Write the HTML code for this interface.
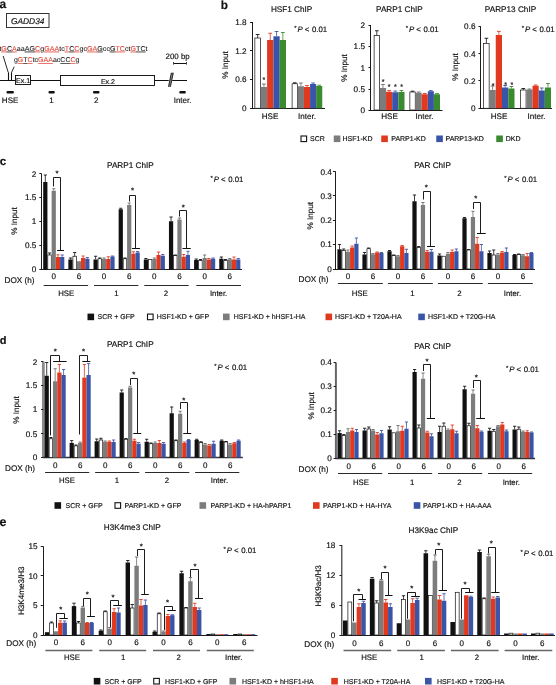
<!DOCTYPE html>
<html><head><meta charset="utf-8"><title>GADD34 ChIP figure</title>
<style>
html,body{margin:0;padding:0;background:#fff;}
body{width:556px;height:685px;overflow:hidden;}
svg{display:block;font-family:'Liberation Sans', Arial, Helvetica, sans-serif;}
text{stroke:#111;stroke-width:0.16px;text-rendering:geometricPrecision;}
</style></head>
<body>
<svg width="556" height="685" viewBox="0 0 556 685">
<rect width="556" height="685" fill="#fff"/>
<text x="-0.40" y="7.70" font-size="12.0" font-weight="bold" fill="#111">a</text>
<rect x="6.50" y="13.50" width="42.50" height="14.00" fill="white" stroke="#333" stroke-width="1.0"/>
<text x="27.70" y="23.82" font-size="8.4" text-anchor="middle" font-style="italic" fill="#111">GADD34</text>
<text x="-0.6" y="50.6" font-size="7" textLength="148.2" lengthAdjust="spacingAndGlyphs"><tspan fill="#222" stroke="#222" stroke-width="0.08">t</tspan><tspan fill="#e04535" stroke="#e04535" stroke-width="0.08" text-decoration="underline" style="text-decoration-thickness:0.45px;text-underline-offset:0.6px">G</tspan><tspan fill="#222" stroke="#222" stroke-width="0.08" text-decoration="underline" style="text-decoration-thickness:0.45px;text-underline-offset:0.6px">C</tspan><tspan fill="#e04535" stroke="#e04535" stroke-width="0.08" text-decoration="underline" style="text-decoration-thickness:0.45px;text-underline-offset:0.6px">A</tspan><tspan fill="#222" stroke="#222" stroke-width="0.08">aa</tspan><tspan fill="#222" stroke="#222" stroke-width="0.08" text-decoration="underline" style="text-decoration-thickness:0.45px;text-underline-offset:0.6px">A</tspan><tspan fill="#222" stroke="#222" stroke-width="0.08" text-decoration="underline" style="text-decoration-thickness:0.45px;text-underline-offset:0.6px">G</tspan><tspan fill="#e04535" stroke="#e04535" stroke-width="0.08" text-decoration="underline" style="text-decoration-thickness:0.45px;text-underline-offset:0.6px">C</tspan><tspan fill="#222" stroke="#222" stroke-width="0.08">g</tspan><tspan fill="#e04535" stroke="#e04535" stroke-width="0.08" text-decoration="underline" style="text-decoration-thickness:0.45px;text-underline-offset:0.6px">GAA</tspan><tspan fill="#222" stroke="#222" stroke-width="0.08">tc</tspan><tspan fill="#e04535" stroke="#e04535" stroke-width="0.08" text-decoration="underline" style="text-decoration-thickness:0.45px;text-underline-offset:0.6px">T</tspan><tspan fill="#222" stroke="#222" stroke-width="0.08" text-decoration="underline" style="text-decoration-thickness:0.45px;text-underline-offset:0.6px">C</tspan><tspan fill="#e04535" stroke="#e04535" stroke-width="0.08" text-decoration="underline" style="text-decoration-thickness:0.45px;text-underline-offset:0.6px">C</tspan><tspan fill="#222" stroke="#222" stroke-width="0.08">gc</tspan><tspan fill="#e04535" stroke="#e04535" stroke-width="0.08" text-decoration="underline" style="text-decoration-thickness:0.45px;text-underline-offset:0.6px">GA</tspan><tspan fill="#222" stroke="#222" stroke-width="0.08" text-decoration="underline" style="text-decoration-thickness:0.45px;text-underline-offset:0.6px">G</tspan><tspan fill="#222" stroke="#222" stroke-width="0.08">cc</tspan><tspan fill="#222" stroke="#222" stroke-width="0.08" text-decoration="underline" style="text-decoration-thickness:0.45px;text-underline-offset:0.6px">G</tspan><tspan fill="#e04535" stroke="#e04535" stroke-width="0.08" text-decoration="underline" style="text-decoration-thickness:0.45px;text-underline-offset:0.6px">TC</tspan><tspan fill="#222" stroke="#222" stroke-width="0.08">ct</tspan><tspan fill="#e04535" stroke="#e04535" stroke-width="0.08" text-decoration="underline" style="text-decoration-thickness:0.45px;text-underline-offset:0.6px">G</tspan><tspan fill="#222" stroke="#222" stroke-width="0.08" text-decoration="underline" style="text-decoration-thickness:0.45px;text-underline-offset:0.6px">TC</tspan><tspan fill="#222" stroke="#222" stroke-width="0.08">t</tspan></text>
<text x="13.9" y="62.2" font-size="7" textLength="65.6" lengthAdjust="spacingAndGlyphs"><tspan fill="#222" stroke="#222" stroke-width="0.08">g</tspan><tspan fill="#e04535" stroke="#e04535" stroke-width="0.08" text-decoration="underline" style="text-decoration-thickness:0.45px;text-underline-offset:0.6px">G</tspan><tspan fill="#222" stroke="#222" stroke-width="0.08" text-decoration="underline" style="text-decoration-thickness:0.45px;text-underline-offset:0.6px">T</tspan><tspan fill="#e04535" stroke="#e04535" stroke-width="0.08" text-decoration="underline" style="text-decoration-thickness:0.45px;text-underline-offset:0.6px">C</tspan><tspan fill="#222" stroke="#222" stroke-width="0.08">tc</tspan><tspan fill="#e04535" stroke="#e04535" stroke-width="0.08" text-decoration="underline" style="text-decoration-thickness:0.45px;text-underline-offset:0.6px">GAA</tspan><tspan fill="#222" stroke="#222" stroke-width="0.08">ac</tspan><tspan fill="#222" stroke="#222" stroke-width="0.08" text-decoration="underline" style="text-decoration-thickness:0.45px;text-underline-offset:0.6px">CC</tspan><tspan fill="#e04535" stroke="#e04535" stroke-width="0.08" text-decoration="underline" style="text-decoration-thickness:0.45px;text-underline-offset:0.6px">C</tspan><tspan fill="#222" stroke="#222" stroke-width="0.08">g</tspan></text>
<text x="165.60" y="58.50" font-size="7.9" fill="#111">200 bp</text>
<line x1="173.90" y1="63.50" x2="186.10" y2="63.50" stroke="#111" stroke-width="1.0"/>
<line x1="173.50" y1="62.00" x2="173.50" y2="64.60" stroke="#111" stroke-width="0.8"/>
<line x1="186.50" y1="62.00" x2="186.50" y2="64.60" stroke="#111" stroke-width="0.8"/>
<line x1="0.00" y1="80.50" x2="168.80" y2="80.50" stroke="#111" stroke-width="1.0"/>
<line x1="172.20" y1="80.50" x2="187.00" y2="80.50" stroke="#111" stroke-width="1.0"/>
<line x1="3.20" y1="56.00" x2="8.20" y2="72.30" stroke="#111" stroke-width="0.9"/>
<line x1="14.20" y1="66.70" x2="11.60" y2="72.30" stroke="#111" stroke-width="0.9"/>
<line x1="8.50" y1="72.30" x2="8.50" y2="80.50" stroke="#111" stroke-width="1.1"/>
<line x1="11.50" y1="72.30" x2="11.50" y2="80.50" stroke="#111" stroke-width="1.1"/>
<rect x="15.50" y="75.50" width="15.00" height="9.00" fill="white" stroke="#111" stroke-width="0.95"/>
<text x="23.10" y="83.12" font-size="7.0" text-anchor="middle" fill="#111">Ex.1</text>
<rect x="60.50" y="75.50" width="94.00" height="10.00" fill="white" stroke="#111" stroke-width="0.95"/>
<text x="107.90" y="83.52" font-size="7.0" text-anchor="middle" fill="#111">Ex.2</text>
<polygon points="168.0,86.8 170.9,86.8 173.8,72.8 170.9,72.8" fill="#222"/>
<line x1="169.60" y1="86.20" x2="172.20" y2="73.40" stroke="#ddd" stroke-width="0.5"/>
<rect x="6.5" y="90.9" width="7.35" height="2.6" rx="1" fill="#111"/>
<rect x="48.5" y="90.9" width="6.25" height="2.6" rx="1" fill="#111"/>
<rect x="93.0" y="90.9" width="6.50" height="2.6" rx="1" fill="#111"/>
<rect x="179.3" y="90.9" width="6.50" height="2.6" rx="1" fill="#111"/>
<text x="10.10" y="102.68" font-size="8.0" text-anchor="middle" fill="#111">HSE</text>
<text x="51.60" y="102.68" font-size="8.0" text-anchor="middle" fill="#111">1</text>
<text x="96.20" y="102.68" font-size="8.0" text-anchor="middle" fill="#111">2</text>
<text x="182.60" y="102.68" font-size="8.0" text-anchor="middle" fill="#111">Inter.</text>
<text x="220.80" y="8.70" font-size="11.8" font-weight="bold" fill="#111">b</text>
<line x1="252.50" y1="22.00" x2="252.50" y2="108.65" stroke="#111" stroke-width="0.95"/>
<line x1="251.85" y1="108.50" x2="325.00" y2="108.50" stroke="#111" stroke-width="0.95"/>
<line x1="250.00" y1="22.50" x2="252.30" y2="22.50" stroke="#111" stroke-width="0.95"/>
<text x="246.60" y="24.95" font-size="8.2" text-anchor="end" fill="#111">1.8</text>
<line x1="250.00" y1="50.50" x2="252.30" y2="50.50" stroke="#111" stroke-width="0.95"/>
<text x="246.60" y="53.70" font-size="8.2" text-anchor="end" fill="#111">1.2</text>
<line x1="250.00" y1="79.50" x2="252.30" y2="79.50" stroke="#111" stroke-width="0.95"/>
<text x="246.60" y="82.45" font-size="8.2" text-anchor="end" fill="#111">0.6</text>
<line x1="250.00" y1="108.50" x2="252.30" y2="108.50" stroke="#111" stroke-width="0.95"/>
<text x="246.60" y="111.20" font-size="8.2" text-anchor="end" fill="#111">0</text>
<text x="291.60" y="11.85" font-size="8.2" text-anchor="middle" fill="#111">HSF1 ChIP</text>
<text transform="translate(227.60,65.00) rotate(-90)" font-size="8.1" text-anchor="middle" fill="#111">% Input</text>
<rect x="254.85" y="38.00" width="5.60" height="70.25" fill="white" stroke="#111" stroke-width="0.7"/>
<line x1="257.65" y1="38.00" x2="257.65" y2="34.50" stroke="#111" stroke-width="0.8"/>
<line x1="255.76" y1="34.50" x2="259.54" y2="34.50" stroke="#111" stroke-width="0.9"/>
<rect x="260.80" y="87.00" width="6.30" height="21.25" fill="#7c7c7c"/>
<line x1="263.95" y1="87.00" x2="263.95" y2="84.00" stroke="#6a6a6a" stroke-width="0.8"/>
<line x1="262.06" y1="84.00" x2="265.84" y2="84.00" stroke="#6a6a6a" stroke-width="0.9"/>
<rect x="267.10" y="40.00" width="6.30" height="68.25" fill="#e0391f"/>
<line x1="270.25" y1="40.00" x2="270.25" y2="33.30" stroke="#e0391f" stroke-width="0.8"/>
<line x1="268.36" y1="33.30" x2="272.14" y2="33.30" stroke="#e0391f" stroke-width="0.9"/>
<rect x="273.40" y="36.30" width="6.30" height="71.95" fill="#3a55a8"/>
<line x1="276.55" y1="36.30" x2="276.55" y2="31.50" stroke="#3a55a8" stroke-width="0.8"/>
<line x1="274.66" y1="31.50" x2="278.44" y2="31.50" stroke="#3a55a8" stroke-width="0.9"/>
<rect x="279.70" y="40.00" width="6.30" height="68.25" fill="#3a8a30"/>
<line x1="282.85" y1="40.00" x2="282.85" y2="32.50" stroke="#3a8a30" stroke-width="0.8"/>
<line x1="280.96" y1="32.50" x2="284.74" y2="32.50" stroke="#3a8a30" stroke-width="0.9"/>
<rect x="292.10" y="83.75" width="5.40" height="24.50" fill="white" stroke="#111" stroke-width="0.7"/>
<line x1="294.80" y1="83.75" x2="294.80" y2="82.80" stroke="#111" stroke-width="0.8"/>
<line x1="292.97" y1="82.80" x2="296.63" y2="82.80" stroke="#111" stroke-width="0.9"/>
<rect x="297.85" y="86.25" width="6.10" height="22.00" fill="#7c7c7c"/>
<line x1="300.90" y1="86.25" x2="300.90" y2="83.00" stroke="#6a6a6a" stroke-width="0.8"/>
<line x1="299.07" y1="83.00" x2="302.73" y2="83.00" stroke="#6a6a6a" stroke-width="0.9"/>
<rect x="303.95" y="87.00" width="6.10" height="21.25" fill="#e0391f"/>
<line x1="307.00" y1="87.00" x2="307.00" y2="85.50" stroke="#e0391f" stroke-width="0.8"/>
<line x1="305.17" y1="85.50" x2="308.83" y2="85.50" stroke="#e0391f" stroke-width="0.9"/>
<rect x="310.05" y="84.00" width="6.10" height="24.25" fill="#3a55a8"/>
<line x1="313.10" y1="84.00" x2="313.10" y2="83.00" stroke="#3a55a8" stroke-width="0.8"/>
<line x1="311.27" y1="83.00" x2="314.93" y2="83.00" stroke="#3a55a8" stroke-width="0.9"/>
<rect x="316.15" y="86.00" width="6.10" height="22.25" fill="#3a8a30"/>
<line x1="319.20" y1="86.00" x2="319.20" y2="85.20" stroke="#3a8a30" stroke-width="0.8"/>
<line x1="317.37" y1="85.20" x2="321.03" y2="85.20" stroke="#3a8a30" stroke-width="0.9"/>
<text x="263.90" y="82.06" font-size="7.0" text-anchor="middle" fill="#111">*</text>
<text x="295.50" y="30.40" font-size="6.0" text-anchor="middle" fill="#111">*</text>
<text x="297.50" y="32.31" font-size="7.8" font-style="italic" fill="#111">P</text>
<text x="304.80" y="32.31" font-size="7.8" fill="#111">&lt;</text>
<text x="312.00" y="32.31" font-size="7.8" fill="#111">0.01</text>
<text x="270.00" y="119.02" font-size="8.1" text-anchor="middle" fill="#111">HSE</text>
<text x="307.00" y="119.02" font-size="8.1" text-anchor="middle" fill="#111">Inter.</text>
<line x1="370.50" y1="25.00" x2="370.50" y2="110.40" stroke="#111" stroke-width="0.95"/>
<line x1="370.30" y1="110.50" x2="442.50" y2="110.50" stroke="#111" stroke-width="0.95"/>
<line x1="368.45" y1="25.50" x2="370.75" y2="25.50" stroke="#111" stroke-width="0.95"/>
<text x="365.00" y="27.95" font-size="8.2" text-anchor="end" fill="#111">2</text>
<line x1="368.45" y1="46.50" x2="370.75" y2="46.50" stroke="#111" stroke-width="0.95"/>
<text x="365.00" y="49.45" font-size="8.2" text-anchor="end" fill="#111">1.5</text>
<line x1="368.45" y1="67.50" x2="370.75" y2="67.50" stroke="#111" stroke-width="0.95"/>
<text x="365.00" y="70.70" font-size="8.2" text-anchor="end" fill="#111">1</text>
<line x1="368.45" y1="89.50" x2="370.75" y2="89.50" stroke="#111" stroke-width="0.95"/>
<text x="365.00" y="91.95" font-size="8.2" text-anchor="end" fill="#111">0.5</text>
<line x1="368.45" y1="110.50" x2="370.75" y2="110.50" stroke="#111" stroke-width="0.95"/>
<text x="365.00" y="112.95" font-size="8.2" text-anchor="end" fill="#111">0</text>
<text x="399.40" y="11.85" font-size="8.2" text-anchor="middle" fill="#111">PARP1 ChIP</text>
<text transform="translate(346.90,68.00) rotate(-90)" font-size="8.1" text-anchor="middle" fill="#111">% Input</text>
<rect x="374.10" y="35.50" width="5.45" height="74.50" fill="white" stroke="#111" stroke-width="0.7"/>
<line x1="376.82" y1="35.50" x2="376.82" y2="30.75" stroke="#111" stroke-width="0.8"/>
<line x1="374.98" y1="30.75" x2="378.67" y2="30.75" stroke="#111" stroke-width="0.9"/>
<rect x="379.90" y="88.00" width="6.15" height="22.00" fill="#7c7c7c"/>
<line x1="382.97" y1="88.00" x2="382.97" y2="84.50" stroke="#6a6a6a" stroke-width="0.8"/>
<line x1="381.13" y1="84.50" x2="384.82" y2="84.50" stroke="#6a6a6a" stroke-width="0.9"/>
<rect x="386.05" y="91.75" width="6.15" height="18.25" fill="#e0391f"/>
<line x1="389.12" y1="91.75" x2="389.12" y2="90.50" stroke="#e0391f" stroke-width="0.8"/>
<line x1="387.28" y1="90.50" x2="390.97" y2="90.50" stroke="#e0391f" stroke-width="0.9"/>
<rect x="392.20" y="92.25" width="6.15" height="17.75" fill="#3a55a8"/>
<line x1="395.27" y1="92.25" x2="395.27" y2="91.00" stroke="#3a55a8" stroke-width="0.8"/>
<line x1="393.43" y1="91.00" x2="397.12" y2="91.00" stroke="#3a55a8" stroke-width="0.9"/>
<rect x="398.35" y="92.00" width="6.15" height="18.00" fill="#3a8a30"/>
<line x1="401.43" y1="92.00" x2="401.43" y2="90.50" stroke="#3a8a30" stroke-width="0.8"/>
<line x1="399.58" y1="90.50" x2="403.27" y2="90.50" stroke="#3a8a30" stroke-width="0.9"/>
<rect x="409.85" y="92.00" width="5.40" height="18.00" fill="white" stroke="#111" stroke-width="0.7"/>
<line x1="412.55" y1="92.00" x2="412.55" y2="91.20" stroke="#111" stroke-width="0.8"/>
<line x1="410.72" y1="91.20" x2="414.38" y2="91.20" stroke="#111" stroke-width="0.9"/>
<rect x="415.60" y="92.75" width="6.10" height="17.25" fill="#7c7c7c"/>
<line x1="418.65" y1="92.75" x2="418.65" y2="92.00" stroke="#6a6a6a" stroke-width="0.8"/>
<line x1="416.82" y1="92.00" x2="420.48" y2="92.00" stroke="#6a6a6a" stroke-width="0.9"/>
<rect x="421.70" y="94.25" width="6.10" height="15.75" fill="#e0391f"/>
<line x1="424.75" y1="94.25" x2="424.75" y2="93.50" stroke="#e0391f" stroke-width="0.8"/>
<line x1="422.92" y1="93.50" x2="426.58" y2="93.50" stroke="#e0391f" stroke-width="0.9"/>
<rect x="427.80" y="91.25" width="6.10" height="18.75" fill="#3a55a8"/>
<line x1="430.85" y1="91.25" x2="430.85" y2="90.60" stroke="#3a55a8" stroke-width="0.8"/>
<line x1="429.02" y1="90.60" x2="432.68" y2="90.60" stroke="#3a55a8" stroke-width="0.9"/>
<rect x="433.90" y="94.25" width="6.10" height="15.75" fill="#3a8a30"/>
<line x1="436.95" y1="94.25" x2="436.95" y2="93.50" stroke="#3a8a30" stroke-width="0.8"/>
<line x1="435.12" y1="93.50" x2="438.78" y2="93.50" stroke="#3a8a30" stroke-width="0.9"/>
<text x="383.10" y="84.06" font-size="7.0" text-anchor="middle" fill="#111">*</text>
<text x="389.20" y="88.56" font-size="7.0" text-anchor="middle" fill="#111">*</text>
<text x="395.40" y="88.56" font-size="7.0" text-anchor="middle" fill="#111">*</text>
<text x="401.50" y="88.56" font-size="7.0" text-anchor="middle" fill="#111">*</text>
<text x="407.00" y="30.40" font-size="6.0" text-anchor="middle" fill="#111">*</text>
<text x="409.00" y="32.31" font-size="7.8" font-style="italic" fill="#111">P</text>
<text x="416.30" y="32.31" font-size="7.8" fill="#111">&lt;</text>
<text x="423.50" y="32.31" font-size="7.8" fill="#111">0.01</text>
<text x="389.50" y="119.02" font-size="8.1" text-anchor="middle" fill="#111">HSE</text>
<text x="424.50" y="119.02" font-size="8.1" text-anchor="middle" fill="#111">Inter.</text>
<line x1="480.50" y1="26.30" x2="480.50" y2="108.65" stroke="#111" stroke-width="0.95"/>
<line x1="480.30" y1="108.50" x2="552.00" y2="108.50" stroke="#111" stroke-width="0.95"/>
<line x1="478.45" y1="26.50" x2="480.75" y2="26.50" stroke="#111" stroke-width="0.95"/>
<text x="475.50" y="29.25" font-size="8.2" text-anchor="end" fill="#111">0.6</text>
<line x1="478.45" y1="53.50" x2="480.75" y2="53.50" stroke="#111" stroke-width="0.95"/>
<text x="475.50" y="56.55" font-size="8.2" text-anchor="end" fill="#111">0.4</text>
<line x1="478.45" y1="80.50" x2="480.75" y2="80.50" stroke="#111" stroke-width="0.95"/>
<text x="475.50" y="83.85" font-size="8.2" text-anchor="end" fill="#111">0.2</text>
<line x1="478.45" y1="108.50" x2="480.75" y2="108.50" stroke="#111" stroke-width="0.95"/>
<text x="475.50" y="111.20" font-size="8.2" text-anchor="end" fill="#111">0</text>
<text x="510.50" y="11.85" font-size="8.2" text-anchor="middle" fill="#111">PARP13 ChIP</text>
<text transform="translate(458.30,67.00) rotate(-90)" font-size="8.1" text-anchor="middle" fill="#111">% Input</text>
<rect x="483.60" y="43.40" width="5.55" height="64.85" fill="white" stroke="#111" stroke-width="0.7"/>
<line x1="486.38" y1="43.40" x2="486.38" y2="38.25" stroke="#111" stroke-width="0.8"/>
<line x1="484.50" y1="38.25" x2="488.25" y2="38.25" stroke="#111" stroke-width="0.9"/>
<rect x="489.50" y="90.00" width="6.25" height="18.25" fill="#7c7c7c"/>
<line x1="492.62" y1="90.00" x2="492.62" y2="86.00" stroke="#6a6a6a" stroke-width="0.8"/>
<line x1="490.75" y1="86.00" x2="494.50" y2="86.00" stroke="#6a6a6a" stroke-width="0.9"/>
<rect x="495.75" y="35.00" width="6.25" height="73.25" fill="#e0391f"/>
<line x1="498.88" y1="35.00" x2="498.88" y2="31.40" stroke="#e0391f" stroke-width="0.8"/>
<line x1="497.00" y1="31.40" x2="500.75" y2="31.40" stroke="#e0391f" stroke-width="0.9"/>
<rect x="502.00" y="87.50" width="6.25" height="20.75" fill="#3a55a8"/>
<line x1="505.12" y1="87.50" x2="505.12" y2="85.50" stroke="#3a55a8" stroke-width="0.8"/>
<line x1="503.25" y1="85.50" x2="507.00" y2="85.50" stroke="#3a55a8" stroke-width="0.9"/>
<rect x="508.25" y="88.50" width="6.25" height="19.75" fill="#3a8a30"/>
<line x1="511.38" y1="88.50" x2="511.38" y2="86.50" stroke="#3a8a30" stroke-width="0.8"/>
<line x1="509.50" y1="86.50" x2="513.25" y2="86.50" stroke="#3a8a30" stroke-width="0.9"/>
<rect x="520.60" y="90.00" width="5.45" height="18.25" fill="white" stroke="#111" stroke-width="0.7"/>
<line x1="523.33" y1="90.00" x2="523.33" y2="88.50" stroke="#111" stroke-width="0.8"/>
<line x1="521.48" y1="88.50" x2="525.17" y2="88.50" stroke="#111" stroke-width="0.9"/>
<rect x="526.40" y="89.50" width="6.15" height="18.75" fill="#7c7c7c"/>
<line x1="529.48" y1="89.50" x2="529.48" y2="89.00" stroke="#6a6a6a" stroke-width="0.8"/>
<line x1="527.63" y1="89.00" x2="531.32" y2="89.00" stroke="#6a6a6a" stroke-width="0.9"/>
<rect x="532.55" y="85.75" width="6.15" height="22.50" fill="#e0391f"/>
<line x1="535.62" y1="85.75" x2="535.62" y2="85.00" stroke="#e0391f" stroke-width="0.8"/>
<line x1="533.78" y1="85.00" x2="537.47" y2="85.00" stroke="#e0391f" stroke-width="0.9"/>
<rect x="538.70" y="90.50" width="6.15" height="17.75" fill="#3a55a8"/>
<line x1="541.78" y1="90.50" x2="541.78" y2="88.00" stroke="#3a55a8" stroke-width="0.8"/>
<line x1="539.93" y1="88.00" x2="543.62" y2="88.00" stroke="#3a55a8" stroke-width="0.9"/>
<rect x="544.85" y="87.50" width="6.15" height="20.75" fill="#3a8a30"/>
<line x1="547.93" y1="87.50" x2="547.93" y2="83.50" stroke="#3a8a30" stroke-width="0.8"/>
<line x1="546.08" y1="83.50" x2="549.77" y2="83.50" stroke="#3a8a30" stroke-width="0.9"/>
<text x="493.10" y="88.06" font-size="7.0" text-anchor="middle" fill="#111">*</text>
<text x="505.60" y="86.86" font-size="7.0" text-anchor="middle" fill="#111">*</text>
<text x="511.80" y="87.36" font-size="7.0" text-anchor="middle" fill="#111">*</text>
<text x="523.00" y="30.40" font-size="6.0" text-anchor="middle" fill="#111">*</text>
<text x="525.00" y="32.31" font-size="7.8" font-style="italic" fill="#111">P</text>
<text x="532.30" y="32.31" font-size="7.8" fill="#111">&lt;</text>
<text x="539.50" y="32.31" font-size="7.8" fill="#111">0.01</text>
<text x="499.00" y="119.02" font-size="8.1" text-anchor="middle" fill="#111">HSE</text>
<text x="536.50" y="119.02" font-size="8.1" text-anchor="middle" fill="#111">Inter.</text>
<rect x="301.00" y="136.00" width="5.60" height="5.60" fill="white" stroke="#111" stroke-width="1.1"/>
<text x="310.00" y="141.32" font-size="7.0" fill="#111" stroke-width="0.1">SCR</text>
<rect x="333.75" y="135.50" width="6.60" height="6.60" fill="#7c7c7c"/>
<text x="342.50" y="141.32" font-size="7.0" fill="#111" stroke-width="0.1">HSF1-KD</text>
<rect x="381.25" y="135.50" width="6.60" height="6.60" fill="#e0391f"/>
<text x="391.25" y="141.32" font-size="7.0" fill="#111" stroke-width="0.1">PARP1-KD</text>
<rect x="436.25" y="135.50" width="6.60" height="6.60" fill="#3a55a8"/>
<text x="445.50" y="141.32" font-size="7.0" fill="#111" stroke-width="0.1">PARP13-KD</text>
<rect x="496.25" y="135.50" width="6.60" height="6.60" fill="#3a8a30"/>
<text x="505.75" y="141.32" font-size="7.0" fill="#111" stroke-width="0.1">DKD</text>
<text x="-0.30" y="165.40" font-size="11.6" font-weight="bold" fill="#111">c</text>
<line x1="41.50" y1="173.75" x2="41.50" y2="269.70" stroke="#111" stroke-width="0.95"/>
<line x1="41.15" y1="269.50" x2="242.00" y2="269.50" stroke="#111" stroke-width="0.95"/>
<line x1="39.30" y1="173.50" x2="41.60" y2="173.50" stroke="#111" stroke-width="0.95"/>
<text x="36.30" y="176.70" font-size="8.2" text-anchor="end" fill="#111">2</text>
<line x1="39.30" y1="197.50" x2="41.60" y2="197.50" stroke="#111" stroke-width="0.95"/>
<text x="36.30" y="200.45" font-size="8.2" text-anchor="end" fill="#111">1.5</text>
<line x1="39.30" y1="221.50" x2="41.60" y2="221.50" stroke="#111" stroke-width="0.95"/>
<text x="36.30" y="224.45" font-size="8.2" text-anchor="end" fill="#111">1</text>
<line x1="39.30" y1="245.50" x2="41.60" y2="245.50" stroke="#111" stroke-width="0.95"/>
<text x="36.30" y="248.35" font-size="8.2" text-anchor="end" fill="#111">0.5</text>
<line x1="39.30" y1="269.50" x2="41.60" y2="269.50" stroke="#111" stroke-width="0.95"/>
<text x="36.30" y="272.25" font-size="8.2" text-anchor="end" fill="#111">0</text>
<rect x="43.20" y="182.00" width="4.22" height="87.30" fill="#111"/>
<line x1="45.31" y1="182.00" x2="45.31" y2="175.00" stroke="#111" stroke-width="0.8"/>
<line x1="43.73" y1="175.00" x2="46.89" y2="175.00" stroke="#111" stroke-width="0.9"/>
<rect x="47.77" y="255.00" width="3.52" height="14.30" fill="white" stroke="#111" stroke-width="0.7"/>
<line x1="49.53" y1="255.00" x2="49.53" y2="253.00" stroke="#111" stroke-width="0.8"/>
<line x1="47.95" y1="253.00" x2="51.11" y2="253.00" stroke="#111" stroke-width="0.9"/>
<rect x="51.64" y="190.75" width="4.22" height="78.55" fill="#7c7c7c"/>
<line x1="53.75" y1="190.75" x2="53.75" y2="188.75" stroke="#6a6a6a" stroke-width="0.8"/>
<line x1="52.17" y1="188.75" x2="55.33" y2="188.75" stroke="#6a6a6a" stroke-width="0.9"/>
<rect x="55.86" y="257.00" width="4.22" height="12.30" fill="#e0391f"/>
<line x1="57.97" y1="257.00" x2="57.97" y2="254.80" stroke="#e0391f" stroke-width="0.8"/>
<line x1="56.39" y1="254.80" x2="59.55" y2="254.80" stroke="#e0391f" stroke-width="0.9"/>
<rect x="60.08" y="257.00" width="4.22" height="12.30" fill="#3a55a8"/>
<line x1="62.19" y1="257.00" x2="62.19" y2="255.00" stroke="#3a55a8" stroke-width="0.8"/>
<line x1="60.61" y1="255.00" x2="63.77" y2="255.00" stroke="#3a55a8" stroke-width="0.9"/>
<rect x="68.35" y="259.50" width="4.22" height="9.80" fill="#111"/>
<line x1="70.46" y1="259.50" x2="70.46" y2="258.00" stroke="#111" stroke-width="0.8"/>
<line x1="68.88" y1="258.00" x2="72.04" y2="258.00" stroke="#111" stroke-width="0.9"/>
<rect x="72.92" y="256.25" width="3.52" height="13.05" fill="white" stroke="#111" stroke-width="0.7"/>
<line x1="74.68" y1="256.25" x2="74.68" y2="252.50" stroke="#111" stroke-width="0.8"/>
<line x1="73.10" y1="252.50" x2="76.26" y2="252.50" stroke="#111" stroke-width="0.9"/>
<rect x="76.79" y="261.25" width="4.22" height="8.05" fill="#7c7c7c"/>
<rect x="81.01" y="258.00" width="4.22" height="11.30" fill="#e0391f"/>
<line x1="83.12" y1="258.00" x2="83.12" y2="256.00" stroke="#e0391f" stroke-width="0.8"/>
<line x1="81.54" y1="256.00" x2="84.70" y2="256.00" stroke="#e0391f" stroke-width="0.9"/>
<rect x="85.23" y="258.75" width="4.22" height="10.55" fill="#3a55a8"/>
<line x1="87.34" y1="258.75" x2="87.34" y2="257.50" stroke="#3a55a8" stroke-width="0.8"/>
<line x1="85.76" y1="257.50" x2="88.92" y2="257.50" stroke="#3a55a8" stroke-width="0.9"/>
<rect x="93.50" y="259.50" width="4.22" height="9.80" fill="#111"/>
<line x1="95.61" y1="259.50" x2="95.61" y2="256.25" stroke="#111" stroke-width="0.8"/>
<line x1="94.03" y1="256.25" x2="97.19" y2="256.25" stroke="#111" stroke-width="0.9"/>
<rect x="98.07" y="258.75" width="3.52" height="10.55" fill="white" stroke="#111" stroke-width="0.7"/>
<line x1="99.83" y1="258.75" x2="99.83" y2="258.00" stroke="#111" stroke-width="0.8"/>
<line x1="98.25" y1="258.00" x2="101.41" y2="258.00" stroke="#111" stroke-width="0.9"/>
<rect x="101.94" y="259.00" width="4.22" height="10.30" fill="#7c7c7c"/>
<line x1="104.05" y1="259.00" x2="104.05" y2="258.00" stroke="#6a6a6a" stroke-width="0.8"/>
<line x1="102.47" y1="258.00" x2="105.63" y2="258.00" stroke="#6a6a6a" stroke-width="0.9"/>
<rect x="106.16" y="259.00" width="4.22" height="10.30" fill="#e0391f"/>
<line x1="108.27" y1="259.00" x2="108.27" y2="256.75" stroke="#e0391f" stroke-width="0.8"/>
<line x1="106.69" y1="256.75" x2="109.85" y2="256.75" stroke="#e0391f" stroke-width="0.9"/>
<rect x="110.38" y="256.50" width="4.22" height="12.80" fill="#3a55a8"/>
<line x1="112.49" y1="256.50" x2="112.49" y2="256.00" stroke="#3a55a8" stroke-width="0.8"/>
<line x1="110.91" y1="256.00" x2="114.07" y2="256.00" stroke="#3a55a8" stroke-width="0.9"/>
<rect x="118.65" y="209.25" width="4.22" height="60.05" fill="#111"/>
<line x1="120.76" y1="209.25" x2="120.76" y2="208.25" stroke="#111" stroke-width="0.8"/>
<line x1="119.18" y1="208.25" x2="122.34" y2="208.25" stroke="#111" stroke-width="0.9"/>
<rect x="123.22" y="258.75" width="3.52" height="10.55" fill="white" stroke="#111" stroke-width="0.7"/>
<line x1="124.98" y1="258.75" x2="124.98" y2="258.00" stroke="#111" stroke-width="0.8"/>
<line x1="123.40" y1="258.00" x2="126.56" y2="258.00" stroke="#111" stroke-width="0.9"/>
<rect x="127.09" y="205.00" width="4.22" height="64.30" fill="#7c7c7c"/>
<line x1="129.20" y1="205.00" x2="129.20" y2="203.00" stroke="#6a6a6a" stroke-width="0.8"/>
<line x1="127.62" y1="203.00" x2="130.78" y2="203.00" stroke="#6a6a6a" stroke-width="0.9"/>
<rect x="131.31" y="253.75" width="4.22" height="15.55" fill="#e0391f"/>
<line x1="133.42" y1="253.75" x2="133.42" y2="251.75" stroke="#e0391f" stroke-width="0.8"/>
<line x1="131.84" y1="251.75" x2="135.00" y2="251.75" stroke="#e0391f" stroke-width="0.9"/>
<rect x="135.53" y="252.50" width="4.22" height="16.80" fill="#3a55a8"/>
<line x1="137.64" y1="252.50" x2="137.64" y2="251.50" stroke="#3a55a8" stroke-width="0.8"/>
<line x1="136.06" y1="251.50" x2="139.22" y2="251.50" stroke="#3a55a8" stroke-width="0.9"/>
<rect x="143.80" y="259.50" width="4.22" height="9.80" fill="#111"/>
<line x1="145.91" y1="259.50" x2="145.91" y2="258.50" stroke="#111" stroke-width="0.8"/>
<line x1="144.33" y1="258.50" x2="147.49" y2="258.50" stroke="#111" stroke-width="0.9"/>
<rect x="148.37" y="259.50" width="3.52" height="9.80" fill="white" stroke="#111" stroke-width="0.7"/>
<rect x="152.24" y="259.00" width="4.22" height="10.30" fill="#7c7c7c"/>
<line x1="154.35" y1="259.00" x2="154.35" y2="258.00" stroke="#6a6a6a" stroke-width="0.8"/>
<line x1="152.77" y1="258.00" x2="155.93" y2="258.00" stroke="#6a6a6a" stroke-width="0.9"/>
<rect x="156.46" y="255.00" width="4.22" height="14.30" fill="#e0391f"/>
<line x1="158.57" y1="255.00" x2="158.57" y2="252.00" stroke="#e0391f" stroke-width="0.8"/>
<line x1="156.99" y1="252.00" x2="160.15" y2="252.00" stroke="#e0391f" stroke-width="0.9"/>
<rect x="160.68" y="255.75" width="4.22" height="13.55" fill="#3a55a8"/>
<line x1="162.79" y1="255.75" x2="162.79" y2="254.50" stroke="#3a55a8" stroke-width="0.8"/>
<line x1="161.21" y1="254.50" x2="164.37" y2="254.50" stroke="#3a55a8" stroke-width="0.9"/>
<rect x="168.95" y="221.25" width="4.22" height="48.05" fill="#111"/>
<line x1="171.06" y1="221.25" x2="171.06" y2="217.00" stroke="#111" stroke-width="0.8"/>
<line x1="169.48" y1="217.00" x2="172.64" y2="217.00" stroke="#111" stroke-width="0.9"/>
<rect x="173.52" y="255.50" width="3.52" height="13.80" fill="white" stroke="#111" stroke-width="0.7"/>
<line x1="175.28" y1="255.50" x2="175.28" y2="255.00" stroke="#111" stroke-width="0.8"/>
<line x1="173.70" y1="255.00" x2="176.86" y2="255.00" stroke="#111" stroke-width="0.9"/>
<rect x="177.39" y="219.50" width="4.22" height="49.80" fill="#7c7c7c"/>
<line x1="179.50" y1="219.50" x2="179.50" y2="218.00" stroke="#6a6a6a" stroke-width="0.8"/>
<line x1="177.92" y1="218.00" x2="181.08" y2="218.00" stroke="#6a6a6a" stroke-width="0.9"/>
<rect x="181.61" y="256.75" width="4.22" height="12.55" fill="#e0391f"/>
<line x1="183.72" y1="256.75" x2="183.72" y2="254.50" stroke="#e0391f" stroke-width="0.8"/>
<line x1="182.14" y1="254.50" x2="185.30" y2="254.50" stroke="#e0391f" stroke-width="0.9"/>
<rect x="185.83" y="255.00" width="4.22" height="14.30" fill="#3a55a8"/>
<line x1="187.94" y1="255.00" x2="187.94" y2="251.25" stroke="#3a55a8" stroke-width="0.8"/>
<line x1="186.36" y1="251.25" x2="189.52" y2="251.25" stroke="#3a55a8" stroke-width="0.9"/>
<rect x="194.10" y="260.00" width="4.22" height="9.30" fill="#111"/>
<line x1="196.21" y1="260.00" x2="196.21" y2="259.00" stroke="#111" stroke-width="0.8"/>
<line x1="194.63" y1="259.00" x2="197.79" y2="259.00" stroke="#111" stroke-width="0.9"/>
<rect x="198.67" y="260.50" width="3.52" height="8.80" fill="white" stroke="#111" stroke-width="0.7"/>
<line x1="200.43" y1="260.50" x2="200.43" y2="259.50" stroke="#111" stroke-width="0.8"/>
<line x1="198.85" y1="259.50" x2="202.01" y2="259.50" stroke="#111" stroke-width="0.9"/>
<rect x="202.54" y="258.00" width="4.22" height="11.30" fill="#7c7c7c"/>
<line x1="204.65" y1="258.00" x2="204.65" y2="255.00" stroke="#6a6a6a" stroke-width="0.8"/>
<line x1="203.07" y1="255.00" x2="206.23" y2="255.00" stroke="#6a6a6a" stroke-width="0.9"/>
<rect x="206.76" y="259.50" width="4.22" height="9.80" fill="#e0391f"/>
<line x1="208.87" y1="259.50" x2="208.87" y2="258.50" stroke="#e0391f" stroke-width="0.8"/>
<line x1="207.29" y1="258.50" x2="210.45" y2="258.50" stroke="#e0391f" stroke-width="0.9"/>
<rect x="210.98" y="258.75" width="4.22" height="10.55" fill="#3a55a8"/>
<line x1="213.09" y1="258.75" x2="213.09" y2="258.00" stroke="#3a55a8" stroke-width="0.8"/>
<line x1="211.51" y1="258.00" x2="214.67" y2="258.00" stroke="#3a55a8" stroke-width="0.9"/>
<rect x="219.25" y="258.75" width="4.22" height="10.55" fill="#111"/>
<line x1="221.36" y1="258.75" x2="221.36" y2="257.00" stroke="#111" stroke-width="0.8"/>
<line x1="219.78" y1="257.00" x2="222.94" y2="257.00" stroke="#111" stroke-width="0.9"/>
<rect x="223.82" y="260.50" width="3.52" height="8.80" fill="white" stroke="#111" stroke-width="0.7"/>
<line x1="225.58" y1="260.50" x2="225.58" y2="259.50" stroke="#111" stroke-width="0.8"/>
<line x1="224.00" y1="259.50" x2="227.16" y2="259.50" stroke="#111" stroke-width="0.9"/>
<rect x="227.69" y="259.25" width="4.22" height="10.05" fill="#7c7c7c"/>
<line x1="229.80" y1="259.25" x2="229.80" y2="258.50" stroke="#6a6a6a" stroke-width="0.8"/>
<line x1="228.22" y1="258.50" x2="231.38" y2="258.50" stroke="#6a6a6a" stroke-width="0.9"/>
<rect x="231.91" y="259.50" width="4.22" height="9.80" fill="#e0391f"/>
<line x1="234.02" y1="259.50" x2="234.02" y2="257.00" stroke="#e0391f" stroke-width="0.8"/>
<line x1="232.44" y1="257.00" x2="235.60" y2="257.00" stroke="#e0391f" stroke-width="0.9"/>
<rect x="236.13" y="259.50" width="4.22" height="9.80" fill="#3a55a8"/>
<line x1="238.24" y1="259.50" x2="238.24" y2="258.50" stroke="#3a55a8" stroke-width="0.8"/>
<line x1="236.66" y1="258.50" x2="239.82" y2="258.50" stroke="#3a55a8" stroke-width="0.9"/>
<polyline points="53.50,186.50 53.50,177.50 60.50,177.50 60.50,250.50" fill="none" stroke="#111" stroke-width="0.95"/>
<line x1="57.00" y1="250.50" x2="64.00" y2="250.50" stroke="#111" stroke-width="1.0"/>
<text x="57.00" y="175.52" font-size="7.8" text-anchor="middle" fill="#111">*</text>
<polyline points="129.50,201.50 129.50,195.50 135.50,195.50 135.50,248.50" fill="none" stroke="#111" stroke-width="0.95"/>
<line x1="132.00" y1="248.50" x2="140.00" y2="248.50" stroke="#111" stroke-width="1.0"/>
<text x="132.50" y="193.32" font-size="7.8" text-anchor="middle" fill="#111">*</text>
<polyline points="179.50,216.50 179.50,210.50 186.50,210.50 186.50,248.50" fill="none" stroke="#111" stroke-width="0.95"/>
<line x1="182.50" y1="248.50" x2="190.75" y2="248.50" stroke="#111" stroke-width="1.0"/>
<text x="183.25" y="209.52" font-size="7.8" text-anchor="middle" fill="#111">*</text>
<text x="130.40" y="167.95" font-size="8.2" text-anchor="middle" fill="#111">PARP1 ChIP</text>
<text x="211.75" y="179.65" font-size="6.0" text-anchor="middle" fill="#111">*</text>
<text x="213.75" y="181.56" font-size="7.8" font-style="italic" fill="#111">P</text>
<text x="221.05" y="181.56" font-size="7.8" fill="#111">&lt;</text>
<text x="228.25" y="181.56" font-size="7.8" fill="#111">0.01</text>
<text transform="translate(16.80,221.10) rotate(-90)" font-size="8.1" text-anchor="middle" fill="#111">% Input</text>
<text x="4.50" y="283.25" font-size="8.2" fill="#111">DOX (h)</text>
<text x="53.75" y="279.18" font-size="8.0" text-anchor="middle" fill="#111">0</text>
<text x="78.90" y="279.18" font-size="8.0" text-anchor="middle" fill="#111">6</text>
<text x="104.05" y="279.18" font-size="8.0" text-anchor="middle" fill="#111">0</text>
<text x="129.20" y="279.18" font-size="8.0" text-anchor="middle" fill="#111">6</text>
<text x="154.35" y="279.18" font-size="8.0" text-anchor="middle" fill="#111">0</text>
<text x="179.50" y="279.18" font-size="8.0" text-anchor="middle" fill="#111">6</text>
<text x="204.65" y="279.18" font-size="8.0" text-anchor="middle" fill="#111">0</text>
<text x="229.80" y="279.18" font-size="8.0" text-anchor="middle" fill="#111">6</text>
<line x1="43.70" y1="285.50" x2="88.05" y2="285.50" stroke="#111" stroke-width="0.9"/>
<text x="66.25" y="296.11" font-size="7.8" text-anchor="middle" fill="#111">HSE</text>
<line x1="94.00" y1="285.50" x2="138.35" y2="285.50" stroke="#111" stroke-width="0.9"/>
<text x="116.40" y="296.11" font-size="7.8" text-anchor="middle" fill="#111">1</text>
<line x1="144.30" y1="285.50" x2="188.65" y2="285.50" stroke="#111" stroke-width="0.9"/>
<text x="166.00" y="296.11" font-size="7.8" text-anchor="middle" fill="#111">2</text>
<line x1="196.30" y1="285.50" x2="241.00" y2="285.50" stroke="#111" stroke-width="0.9"/>
<text x="218.60" y="296.11" font-size="7.8" text-anchor="middle" fill="#111">Inter.</text>
<line x1="335.50" y1="171.25" x2="335.50" y2="269.40" stroke="#111" stroke-width="0.95"/>
<line x1="334.75" y1="269.50" x2="535.00" y2="269.50" stroke="#111" stroke-width="0.95"/>
<line x1="332.90" y1="171.50" x2="335.20" y2="171.50" stroke="#111" stroke-width="0.95"/>
<text x="331.80" y="174.70" font-size="8.2" text-anchor="end" fill="#111">0.4</text>
<line x1="332.90" y1="195.50" x2="335.20" y2="195.50" stroke="#111" stroke-width="0.95"/>
<text x="331.80" y="198.85" font-size="8.2" text-anchor="end" fill="#111">0.3</text>
<line x1="332.90" y1="220.50" x2="335.20" y2="220.50" stroke="#111" stroke-width="0.95"/>
<text x="331.80" y="222.95" font-size="8.2" text-anchor="end" fill="#111">0.2</text>
<line x1="332.90" y1="244.50" x2="335.20" y2="244.50" stroke="#111" stroke-width="0.95"/>
<text x="331.80" y="247.05" font-size="8.2" text-anchor="end" fill="#111">0.1</text>
<line x1="332.90" y1="269.50" x2="335.20" y2="269.50" stroke="#111" stroke-width="0.95"/>
<text x="331.80" y="271.95" font-size="8.2" text-anchor="end" fill="#111">0</text>
<rect x="337.40" y="249.25" width="4.22" height="19.75" fill="#111"/>
<line x1="339.51" y1="249.25" x2="339.51" y2="244.50" stroke="#111" stroke-width="0.8"/>
<line x1="337.93" y1="244.50" x2="341.09" y2="244.50" stroke="#111" stroke-width="0.9"/>
<rect x="341.97" y="250.50" width="3.52" height="18.50" fill="white" stroke="#111" stroke-width="0.7"/>
<line x1="343.73" y1="250.50" x2="343.73" y2="249.00" stroke="#111" stroke-width="0.8"/>
<line x1="342.15" y1="249.00" x2="345.31" y2="249.00" stroke="#111" stroke-width="0.9"/>
<rect x="345.84" y="251.75" width="4.22" height="17.25" fill="#7c7c7c"/>
<line x1="347.95" y1="251.75" x2="347.95" y2="250.00" stroke="#6a6a6a" stroke-width="0.8"/>
<line x1="346.37" y1="250.00" x2="349.53" y2="250.00" stroke="#6a6a6a" stroke-width="0.9"/>
<rect x="350.06" y="247.50" width="4.22" height="21.50" fill="#e0391f"/>
<line x1="352.17" y1="247.50" x2="352.17" y2="246.00" stroke="#e0391f" stroke-width="0.8"/>
<line x1="350.59" y1="246.00" x2="353.75" y2="246.00" stroke="#e0391f" stroke-width="0.9"/>
<rect x="354.28" y="243.75" width="4.22" height="25.25" fill="#3a55a8"/>
<line x1="356.39" y1="243.75" x2="356.39" y2="238.00" stroke="#3a55a8" stroke-width="0.8"/>
<line x1="354.81" y1="238.00" x2="357.97" y2="238.00" stroke="#3a55a8" stroke-width="0.9"/>
<rect x="362.40" y="254.50" width="4.22" height="14.50" fill="#111"/>
<line x1="364.51" y1="254.50" x2="364.51" y2="252.50" stroke="#111" stroke-width="0.8"/>
<line x1="362.93" y1="252.50" x2="366.09" y2="252.50" stroke="#111" stroke-width="0.9"/>
<rect x="366.97" y="248.75" width="3.52" height="20.25" fill="white" stroke="#111" stroke-width="0.7"/>
<line x1="368.73" y1="248.75" x2="368.73" y2="248.00" stroke="#111" stroke-width="0.8"/>
<line x1="367.15" y1="248.00" x2="370.31" y2="248.00" stroke="#111" stroke-width="0.9"/>
<rect x="370.84" y="254.25" width="4.22" height="14.75" fill="#7c7c7c"/>
<line x1="372.95" y1="254.25" x2="372.95" y2="253.50" stroke="#6a6a6a" stroke-width="0.8"/>
<line x1="371.37" y1="253.50" x2="374.53" y2="253.50" stroke="#6a6a6a" stroke-width="0.9"/>
<rect x="375.06" y="252.50" width="4.22" height="16.50" fill="#e0391f"/>
<line x1="377.17" y1="252.50" x2="377.17" y2="252.00" stroke="#e0391f" stroke-width="0.8"/>
<line x1="375.59" y1="252.00" x2="378.75" y2="252.00" stroke="#e0391f" stroke-width="0.9"/>
<rect x="379.28" y="253.00" width="4.22" height="16.00" fill="#3a55a8"/>
<line x1="381.39" y1="253.00" x2="381.39" y2="252.50" stroke="#3a55a8" stroke-width="0.8"/>
<line x1="379.81" y1="252.50" x2="382.97" y2="252.50" stroke="#3a55a8" stroke-width="0.9"/>
<rect x="387.40" y="251.25" width="4.22" height="17.75" fill="#111"/>
<line x1="389.51" y1="251.25" x2="389.51" y2="250.50" stroke="#111" stroke-width="0.8"/>
<line x1="387.93" y1="250.50" x2="391.09" y2="250.50" stroke="#111" stroke-width="0.9"/>
<rect x="391.97" y="255.50" width="3.52" height="13.50" fill="white" stroke="#111" stroke-width="0.7"/>
<line x1="393.73" y1="255.50" x2="393.73" y2="255.00" stroke="#111" stroke-width="0.8"/>
<line x1="392.15" y1="255.00" x2="395.31" y2="255.00" stroke="#111" stroke-width="0.9"/>
<rect x="395.84" y="256.25" width="4.22" height="12.75" fill="#7c7c7c"/>
<line x1="397.95" y1="256.25" x2="397.95" y2="255.50" stroke="#6a6a6a" stroke-width="0.8"/>
<line x1="396.37" y1="255.50" x2="399.53" y2="255.50" stroke="#6a6a6a" stroke-width="0.9"/>
<rect x="400.06" y="246.25" width="4.22" height="22.75" fill="#e0391f"/>
<line x1="402.17" y1="246.25" x2="402.17" y2="245.50" stroke="#e0391f" stroke-width="0.8"/>
<line x1="400.59" y1="245.50" x2="403.75" y2="245.50" stroke="#e0391f" stroke-width="0.9"/>
<rect x="404.28" y="253.00" width="4.22" height="16.00" fill="#3a55a8"/>
<line x1="406.39" y1="253.00" x2="406.39" y2="249.25" stroke="#3a55a8" stroke-width="0.8"/>
<line x1="404.81" y1="249.25" x2="407.97" y2="249.25" stroke="#3a55a8" stroke-width="0.9"/>
<rect x="412.40" y="201.25" width="4.22" height="67.75" fill="#111"/>
<line x1="414.51" y1="201.25" x2="414.51" y2="195.00" stroke="#111" stroke-width="0.8"/>
<line x1="412.93" y1="195.00" x2="416.09" y2="195.00" stroke="#111" stroke-width="0.9"/>
<rect x="416.97" y="247.50" width="3.52" height="21.50" fill="white" stroke="#111" stroke-width="0.7"/>
<line x1="418.73" y1="247.50" x2="418.73" y2="246.50" stroke="#111" stroke-width="0.8"/>
<line x1="417.15" y1="246.50" x2="420.31" y2="246.50" stroke="#111" stroke-width="0.9"/>
<rect x="420.84" y="205.00" width="4.22" height="64.00" fill="#7c7c7c"/>
<line x1="422.95" y1="205.00" x2="422.95" y2="202.50" stroke="#6a6a6a" stroke-width="0.8"/>
<line x1="421.37" y1="202.50" x2="424.53" y2="202.50" stroke="#6a6a6a" stroke-width="0.9"/>
<rect x="425.06" y="251.75" width="4.22" height="17.25" fill="#e0391f"/>
<line x1="427.17" y1="251.75" x2="427.17" y2="250.50" stroke="#e0391f" stroke-width="0.8"/>
<line x1="425.59" y1="250.50" x2="428.75" y2="250.50" stroke="#e0391f" stroke-width="0.9"/>
<rect x="429.28" y="251.75" width="4.22" height="17.25" fill="#3a55a8"/>
<line x1="431.39" y1="251.75" x2="431.39" y2="249.50" stroke="#3a55a8" stroke-width="0.8"/>
<line x1="429.81" y1="249.50" x2="432.97" y2="249.50" stroke="#3a55a8" stroke-width="0.9"/>
<rect x="437.40" y="255.50" width="4.22" height="13.50" fill="#111"/>
<line x1="439.51" y1="255.50" x2="439.51" y2="254.00" stroke="#111" stroke-width="0.8"/>
<line x1="437.93" y1="254.00" x2="441.09" y2="254.00" stroke="#111" stroke-width="0.9"/>
<rect x="441.97" y="256.25" width="3.52" height="12.75" fill="white" stroke="#111" stroke-width="0.7"/>
<rect x="445.84" y="253.75" width="4.22" height="15.25" fill="#7c7c7c"/>
<line x1="447.95" y1="253.75" x2="447.95" y2="252.50" stroke="#6a6a6a" stroke-width="0.8"/>
<line x1="446.37" y1="252.50" x2="449.53" y2="252.50" stroke="#6a6a6a" stroke-width="0.9"/>
<rect x="450.06" y="252.00" width="4.22" height="17.00" fill="#e0391f"/>
<line x1="452.17" y1="252.00" x2="452.17" y2="250.00" stroke="#e0391f" stroke-width="0.8"/>
<line x1="450.59" y1="250.00" x2="453.75" y2="250.00" stroke="#e0391f" stroke-width="0.9"/>
<rect x="454.28" y="251.25" width="4.22" height="17.75" fill="#3a55a8"/>
<line x1="456.39" y1="251.25" x2="456.39" y2="249.00" stroke="#3a55a8" stroke-width="0.8"/>
<line x1="454.81" y1="249.00" x2="457.97" y2="249.00" stroke="#3a55a8" stroke-width="0.9"/>
<rect x="462.40" y="218.25" width="4.22" height="50.75" fill="#111"/>
<line x1="464.51" y1="218.25" x2="464.51" y2="217.50" stroke="#111" stroke-width="0.8"/>
<line x1="462.93" y1="217.50" x2="466.09" y2="217.50" stroke="#111" stroke-width="0.9"/>
<rect x="466.97" y="250.00" width="3.52" height="19.00" fill="white" stroke="#111" stroke-width="0.7"/>
<line x1="468.73" y1="250.00" x2="468.73" y2="249.50" stroke="#111" stroke-width="0.8"/>
<line x1="467.15" y1="249.50" x2="470.31" y2="249.50" stroke="#111" stroke-width="0.9"/>
<rect x="470.84" y="217.00" width="4.22" height="52.00" fill="#7c7c7c"/>
<line x1="472.95" y1="217.00" x2="472.95" y2="211.25" stroke="#6a6a6a" stroke-width="0.8"/>
<line x1="471.37" y1="211.25" x2="474.53" y2="211.25" stroke="#6a6a6a" stroke-width="0.9"/>
<rect x="475.06" y="243.75" width="4.22" height="25.25" fill="#e0391f"/>
<line x1="477.17" y1="243.75" x2="477.17" y2="237.50" stroke="#e0391f" stroke-width="0.8"/>
<line x1="475.59" y1="237.50" x2="478.75" y2="237.50" stroke="#e0391f" stroke-width="0.9"/>
<rect x="479.28" y="251.25" width="4.22" height="17.75" fill="#3a55a8"/>
<line x1="481.39" y1="251.25" x2="481.39" y2="244.50" stroke="#3a55a8" stroke-width="0.8"/>
<line x1="479.81" y1="244.50" x2="482.97" y2="244.50" stroke="#3a55a8" stroke-width="0.9"/>
<rect x="487.40" y="253.00" width="4.22" height="16.00" fill="#111"/>
<line x1="489.51" y1="253.00" x2="489.51" y2="251.00" stroke="#111" stroke-width="0.8"/>
<line x1="487.93" y1="251.00" x2="491.09" y2="251.00" stroke="#111" stroke-width="0.9"/>
<rect x="491.97" y="255.00" width="3.52" height="14.00" fill="white" stroke="#111" stroke-width="0.7"/>
<line x1="493.73" y1="255.00" x2="493.73" y2="250.00" stroke="#111" stroke-width="0.8"/>
<line x1="492.15" y1="250.00" x2="495.31" y2="250.00" stroke="#111" stroke-width="0.9"/>
<rect x="495.84" y="254.50" width="4.22" height="14.50" fill="#7c7c7c"/>
<line x1="497.95" y1="254.50" x2="497.95" y2="253.50" stroke="#6a6a6a" stroke-width="0.8"/>
<line x1="496.37" y1="253.50" x2="499.53" y2="253.50" stroke="#6a6a6a" stroke-width="0.9"/>
<rect x="500.06" y="252.50" width="4.22" height="16.50" fill="#e0391f"/>
<line x1="502.17" y1="252.50" x2="502.17" y2="251.50" stroke="#e0391f" stroke-width="0.8"/>
<line x1="500.59" y1="251.50" x2="503.75" y2="251.50" stroke="#e0391f" stroke-width="0.9"/>
<rect x="504.28" y="252.00" width="4.22" height="17.00" fill="#3a55a8"/>
<line x1="506.39" y1="252.00" x2="506.39" y2="248.00" stroke="#3a55a8" stroke-width="0.8"/>
<line x1="504.81" y1="248.00" x2="507.97" y2="248.00" stroke="#3a55a8" stroke-width="0.9"/>
<rect x="512.40" y="255.00" width="4.22" height="14.00" fill="#111"/>
<line x1="514.51" y1="255.00" x2="514.51" y2="254.50" stroke="#111" stroke-width="0.8"/>
<line x1="512.93" y1="254.50" x2="516.09" y2="254.50" stroke="#111" stroke-width="0.9"/>
<rect x="516.97" y="254.50" width="3.52" height="14.50" fill="white" stroke="#111" stroke-width="0.7"/>
<line x1="518.73" y1="254.50" x2="518.73" y2="254.00" stroke="#111" stroke-width="0.8"/>
<line x1="517.15" y1="254.00" x2="520.31" y2="254.00" stroke="#111" stroke-width="0.9"/>
<rect x="520.84" y="255.25" width="4.22" height="13.75" fill="#7c7c7c"/>
<line x1="522.95" y1="255.25" x2="522.95" y2="254.50" stroke="#6a6a6a" stroke-width="0.8"/>
<line x1="521.37" y1="254.50" x2="524.53" y2="254.50" stroke="#6a6a6a" stroke-width="0.9"/>
<rect x="525.06" y="256.25" width="4.22" height="12.75" fill="#e0391f"/>
<line x1="527.17" y1="256.25" x2="527.17" y2="253.50" stroke="#e0391f" stroke-width="0.8"/>
<line x1="525.59" y1="253.50" x2="528.75" y2="253.50" stroke="#e0391f" stroke-width="0.9"/>
<rect x="529.28" y="253.00" width="4.22" height="16.00" fill="#3a55a8"/>
<line x1="531.39" y1="253.00" x2="531.39" y2="252.50" stroke="#3a55a8" stroke-width="0.8"/>
<line x1="529.81" y1="252.50" x2="532.97" y2="252.50" stroke="#3a55a8" stroke-width="0.9"/>
<polyline points="423.50,199.50 423.50,191.50 430.50,191.50 430.50,246.50" fill="none" stroke="#111" stroke-width="0.95"/>
<line x1="427.00" y1="246.50" x2="435.00" y2="246.50" stroke="#111" stroke-width="1.0"/>
<text x="426.25" y="190.32" font-size="7.8" text-anchor="middle" fill="#111">*</text>
<polyline points="473.50,209.00 473.50,202.50 480.50,202.50 480.50,233.50" fill="none" stroke="#111" stroke-width="0.95"/>
<line x1="477.00" y1="233.50" x2="485.75" y2="233.50" stroke="#111" stroke-width="1.0"/>
<text x="475.75" y="200.82" font-size="7.8" text-anchor="middle" fill="#111">*</text>
<text x="432.50" y="167.95" font-size="8.2" text-anchor="middle" fill="#111">PAR ChIP</text>
<text x="505.50" y="179.65" font-size="6.0" text-anchor="middle" fill="#111">*</text>
<text x="507.50" y="181.56" font-size="7.8" font-style="italic" fill="#111">P</text>
<text x="514.80" y="181.56" font-size="7.8" fill="#111">&lt;</text>
<text x="522.00" y="181.56" font-size="7.8" fill="#111">0.01</text>
<text transform="translate(313.30,215.80) rotate(-90)" font-size="8.1" text-anchor="middle" fill="#111">% Input</text>
<text x="298.50" y="282.25" font-size="8.2" fill="#111">DOX (h)</text>
<text x="347.95" y="279.18" font-size="8.0" text-anchor="middle" fill="#111">0</text>
<text x="372.95" y="279.18" font-size="8.0" text-anchor="middle" fill="#111">6</text>
<text x="397.95" y="279.18" font-size="8.0" text-anchor="middle" fill="#111">0</text>
<text x="422.95" y="279.18" font-size="8.0" text-anchor="middle" fill="#111">6</text>
<text x="447.95" y="279.18" font-size="8.0" text-anchor="middle" fill="#111">0</text>
<text x="472.95" y="279.18" font-size="8.0" text-anchor="middle" fill="#111">6</text>
<text x="497.95" y="279.18" font-size="8.0" text-anchor="middle" fill="#111">0</text>
<text x="522.95" y="279.18" font-size="8.0" text-anchor="middle" fill="#111">6</text>
<line x1="337.90" y1="283.50" x2="382.80" y2="283.50" stroke="#111" stroke-width="0.9"/>
<text x="359.75" y="295.61" font-size="7.8" text-anchor="middle" fill="#111">HSE</text>
<line x1="387.90" y1="283.50" x2="432.80" y2="283.50" stroke="#111" stroke-width="0.9"/>
<text x="412.50" y="295.61" font-size="7.8" text-anchor="middle" fill="#111">1</text>
<line x1="437.90" y1="283.50" x2="482.80" y2="283.50" stroke="#111" stroke-width="0.9"/>
<text x="459.50" y="295.61" font-size="7.8" text-anchor="middle" fill="#111">2</text>
<line x1="487.90" y1="283.50" x2="532.80" y2="283.50" stroke="#111" stroke-width="0.9"/>
<text x="512.50" y="295.61" font-size="7.8" text-anchor="middle" fill="#111">Inter.</text>
<rect x="87.50" y="313.60" width="6.60" height="6.60" fill="#111"/>
<text x="97.50" y="319.42" font-size="7.0" fill="#111" stroke-width="0.1">SCR + GFP</text>
<rect x="147.50" y="314.10" width="5.60" height="5.60" fill="white" stroke="#111" stroke-width="1.1"/>
<text x="156.75" y="319.42" font-size="7.0" fill="#111" stroke-width="0.1">HSF1-KD + GFP</text>
<rect x="223.00" y="313.60" width="6.60" height="6.60" fill="#7c7c7c"/>
<text x="233.75" y="319.42" font-size="7.0" fill="#111" stroke-width="0.1">HSF1-KD + hHSF1-HA</text>
<rect x="325.50" y="313.60" width="6.60" height="6.60" fill="#e0391f"/>
<text x="335.00" y="319.42" font-size="7.0" fill="#111" stroke-width="0.1">HSF1-KD + T20A-HA</text>
<rect x="418.25" y="313.60" width="6.60" height="6.60" fill="#3a55a8"/>
<text x="428.00" y="319.42" font-size="7.0" fill="#111" stroke-width="0.1">HSF1-KD + T20G-HA</text>
<text x="-0.30" y="343.70" font-size="11.0" font-weight="bold" fill="#111">d</text>
<line x1="43.35" y1="361.75" x2="43.35" y2="457.90" stroke="#8a8a8a" stroke-width="2.8"/>
<line x1="42.90" y1="457.50" x2="242.80" y2="457.50" stroke="#333" stroke-width="1.3"/>
<line x1="41.05" y1="361.50" x2="43.35" y2="361.50" stroke="#111" stroke-width="0.95"/>
<text x="37.20" y="364.70" font-size="8.2" text-anchor="end" fill="#111">2</text>
<line x1="41.05" y1="385.50" x2="43.35" y2="385.50" stroke="#111" stroke-width="0.95"/>
<text x="37.20" y="388.45" font-size="8.2" text-anchor="end" fill="#111">1.5</text>
<line x1="41.05" y1="409.50" x2="43.35" y2="409.50" stroke="#111" stroke-width="0.95"/>
<text x="37.20" y="412.45" font-size="8.2" text-anchor="end" fill="#111">1</text>
<line x1="41.05" y1="433.50" x2="43.35" y2="433.50" stroke="#111" stroke-width="0.95"/>
<text x="37.20" y="436.55" font-size="8.2" text-anchor="end" fill="#111">0.5</text>
<line x1="41.05" y1="457.50" x2="43.35" y2="457.50" stroke="#111" stroke-width="0.95"/>
<text x="37.20" y="460.45" font-size="8.2" text-anchor="end" fill="#111">0</text>
<rect x="44.60" y="375.75" width="4.22" height="81.75" fill="#111"/>
<line x1="46.71" y1="375.75" x2="46.71" y2="362.50" stroke="#111" stroke-width="0.8"/>
<line x1="45.13" y1="362.50" x2="48.29" y2="362.50" stroke="#111" stroke-width="0.9"/>
<rect x="49.17" y="438.75" width="3.52" height="18.75" fill="white" stroke="#111" stroke-width="0.7"/>
<line x1="50.93" y1="438.75" x2="50.93" y2="437.50" stroke="#111" stroke-width="0.8"/>
<line x1="49.35" y1="437.50" x2="52.51" y2="437.50" stroke="#111" stroke-width="0.9"/>
<rect x="53.04" y="381.25" width="4.22" height="76.25" fill="#7c7c7c"/>
<line x1="55.15" y1="381.25" x2="55.15" y2="368.75" stroke="#6a6a6a" stroke-width="0.8"/>
<line x1="53.57" y1="368.75" x2="56.73" y2="368.75" stroke="#6a6a6a" stroke-width="0.9"/>
<rect x="57.26" y="372.50" width="4.22" height="85.00" fill="#e0391f"/>
<line x1="59.37" y1="372.50" x2="59.37" y2="364.50" stroke="#e0391f" stroke-width="0.8"/>
<line x1="57.79" y1="364.50" x2="60.95" y2="364.50" stroke="#e0391f" stroke-width="0.9"/>
<rect x="61.48" y="375.00" width="4.22" height="82.50" fill="#3a55a8"/>
<line x1="63.59" y1="375.00" x2="63.59" y2="369.50" stroke="#3a55a8" stroke-width="0.8"/>
<line x1="62.01" y1="369.50" x2="65.17" y2="369.50" stroke="#3a55a8" stroke-width="0.9"/>
<rect x="69.60" y="442.90" width="4.22" height="14.60" fill="#111"/>
<line x1="71.71" y1="442.90" x2="71.71" y2="440.60" stroke="#111" stroke-width="0.8"/>
<line x1="70.13" y1="440.60" x2="73.29" y2="440.60" stroke="#111" stroke-width="0.9"/>
<rect x="74.17" y="445.90" width="3.52" height="11.60" fill="white" stroke="#111" stroke-width="0.7"/>
<line x1="75.93" y1="445.90" x2="75.93" y2="445.00" stroke="#111" stroke-width="0.8"/>
<line x1="74.35" y1="445.00" x2="77.51" y2="445.00" stroke="#111" stroke-width="0.9"/>
<rect x="78.04" y="442.90" width="4.22" height="14.60" fill="#7c7c7c"/>
<line x1="80.15" y1="442.90" x2="80.15" y2="442.00" stroke="#6a6a6a" stroke-width="0.8"/>
<line x1="78.57" y1="442.00" x2="81.73" y2="442.00" stroke="#6a6a6a" stroke-width="0.9"/>
<rect x="82.26" y="377.60" width="4.22" height="79.90" fill="#e0391f"/>
<line x1="84.37" y1="377.60" x2="84.37" y2="364.50" stroke="#e0391f" stroke-width="0.8"/>
<line x1="82.79" y1="364.50" x2="85.95" y2="364.50" stroke="#e0391f" stroke-width="0.9"/>
<rect x="86.48" y="375.00" width="4.22" height="82.50" fill="#3a55a8"/>
<line x1="88.59" y1="375.00" x2="88.59" y2="363.60" stroke="#3a55a8" stroke-width="0.8"/>
<line x1="87.01" y1="363.60" x2="90.17" y2="363.60" stroke="#3a55a8" stroke-width="0.9"/>
<rect x="94.60" y="441.25" width="4.22" height="16.25" fill="#111"/>
<line x1="96.71" y1="441.25" x2="96.71" y2="439.00" stroke="#111" stroke-width="0.8"/>
<line x1="95.13" y1="439.00" x2="98.29" y2="439.00" stroke="#111" stroke-width="0.9"/>
<rect x="99.17" y="440.00" width="3.52" height="17.50" fill="white" stroke="#111" stroke-width="0.7"/>
<line x1="100.93" y1="440.00" x2="100.93" y2="438.25" stroke="#111" stroke-width="0.8"/>
<line x1="99.35" y1="438.25" x2="102.51" y2="438.25" stroke="#111" stroke-width="0.9"/>
<rect x="103.04" y="441.75" width="4.22" height="15.75" fill="#7c7c7c"/>
<line x1="105.15" y1="441.75" x2="105.15" y2="441.00" stroke="#6a6a6a" stroke-width="0.8"/>
<line x1="103.57" y1="441.00" x2="106.73" y2="441.00" stroke="#6a6a6a" stroke-width="0.9"/>
<rect x="107.26" y="441.75" width="4.22" height="15.75" fill="#e0391f"/>
<line x1="109.37" y1="441.75" x2="109.37" y2="441.00" stroke="#e0391f" stroke-width="0.8"/>
<line x1="107.79" y1="441.00" x2="110.95" y2="441.00" stroke="#e0391f" stroke-width="0.9"/>
<rect x="111.48" y="442.00" width="4.22" height="15.50" fill="#3a55a8"/>
<line x1="113.59" y1="442.00" x2="113.59" y2="440.00" stroke="#3a55a8" stroke-width="0.8"/>
<line x1="112.01" y1="440.00" x2="115.17" y2="440.00" stroke="#3a55a8" stroke-width="0.9"/>
<rect x="119.60" y="392.50" width="4.22" height="65.00" fill="#111"/>
<line x1="121.71" y1="392.50" x2="121.71" y2="390.00" stroke="#111" stroke-width="0.8"/>
<line x1="120.13" y1="390.00" x2="123.29" y2="390.00" stroke="#111" stroke-width="0.9"/>
<rect x="124.17" y="439.25" width="3.52" height="18.25" fill="white" stroke="#111" stroke-width="0.7"/>
<line x1="125.93" y1="439.25" x2="125.93" y2="438.50" stroke="#111" stroke-width="0.8"/>
<line x1="124.35" y1="438.50" x2="127.51" y2="438.50" stroke="#111" stroke-width="0.9"/>
<rect x="128.04" y="387.50" width="4.22" height="70.00" fill="#7c7c7c"/>
<line x1="130.15" y1="387.50" x2="130.15" y2="386.25" stroke="#6a6a6a" stroke-width="0.8"/>
<line x1="128.57" y1="386.25" x2="131.73" y2="386.25" stroke="#6a6a6a" stroke-width="0.9"/>
<rect x="132.26" y="440.75" width="4.22" height="16.75" fill="#e0391f"/>
<line x1="134.37" y1="440.75" x2="134.37" y2="439.25" stroke="#e0391f" stroke-width="0.8"/>
<line x1="132.79" y1="439.25" x2="135.95" y2="439.25" stroke="#e0391f" stroke-width="0.9"/>
<rect x="136.48" y="443.75" width="4.22" height="13.75" fill="#3a55a8"/>
<line x1="138.59" y1="443.75" x2="138.59" y2="442.50" stroke="#3a55a8" stroke-width="0.8"/>
<line x1="137.01" y1="442.50" x2="140.17" y2="442.50" stroke="#3a55a8" stroke-width="0.9"/>
<rect x="144.60" y="441.75" width="4.22" height="15.75" fill="#111"/>
<line x1="146.71" y1="441.75" x2="146.71" y2="439.25" stroke="#111" stroke-width="0.8"/>
<line x1="145.13" y1="439.25" x2="148.29" y2="439.25" stroke="#111" stroke-width="0.9"/>
<rect x="149.17" y="443.75" width="3.52" height="13.75" fill="white" stroke="#111" stroke-width="0.7"/>
<line x1="150.93" y1="443.75" x2="150.93" y2="443.00" stroke="#111" stroke-width="0.8"/>
<line x1="149.35" y1="443.00" x2="152.51" y2="443.00" stroke="#111" stroke-width="0.9"/>
<rect x="153.04" y="443.00" width="4.22" height="14.50" fill="#7c7c7c"/>
<line x1="155.15" y1="443.00" x2="155.15" y2="442.00" stroke="#6a6a6a" stroke-width="0.8"/>
<line x1="153.57" y1="442.00" x2="156.73" y2="442.00" stroke="#6a6a6a" stroke-width="0.9"/>
<rect x="157.26" y="443.00" width="4.22" height="14.50" fill="#e0391f"/>
<line x1="159.37" y1="443.00" x2="159.37" y2="440.50" stroke="#e0391f" stroke-width="0.8"/>
<line x1="157.79" y1="440.50" x2="160.95" y2="440.50" stroke="#e0391f" stroke-width="0.9"/>
<rect x="161.48" y="443.75" width="4.22" height="13.75" fill="#3a55a8"/>
<line x1="163.59" y1="443.75" x2="163.59" y2="442.50" stroke="#3a55a8" stroke-width="0.8"/>
<line x1="162.01" y1="442.50" x2="165.17" y2="442.50" stroke="#3a55a8" stroke-width="0.9"/>
<rect x="169.60" y="413.25" width="4.22" height="44.25" fill="#111"/>
<line x1="171.71" y1="413.25" x2="171.71" y2="407.00" stroke="#111" stroke-width="0.8"/>
<line x1="170.13" y1="407.00" x2="173.29" y2="407.00" stroke="#111" stroke-width="0.9"/>
<rect x="174.17" y="440.75" width="3.52" height="16.75" fill="white" stroke="#111" stroke-width="0.7"/>
<line x1="175.93" y1="440.75" x2="175.93" y2="440.00" stroke="#111" stroke-width="0.8"/>
<line x1="174.35" y1="440.00" x2="177.51" y2="440.00" stroke="#111" stroke-width="0.9"/>
<rect x="178.04" y="413.75" width="4.22" height="43.75" fill="#7c7c7c"/>
<line x1="180.15" y1="413.75" x2="180.15" y2="411.25" stroke="#6a6a6a" stroke-width="0.8"/>
<line x1="178.57" y1="411.25" x2="181.73" y2="411.25" stroke="#6a6a6a" stroke-width="0.9"/>
<rect x="182.26" y="443.00" width="4.22" height="14.50" fill="#e0391f"/>
<line x1="184.37" y1="443.00" x2="184.37" y2="442.00" stroke="#e0391f" stroke-width="0.8"/>
<line x1="182.79" y1="442.00" x2="185.95" y2="442.00" stroke="#e0391f" stroke-width="0.9"/>
<rect x="186.48" y="440.00" width="4.22" height="17.50" fill="#3a55a8"/>
<line x1="188.59" y1="440.00" x2="188.59" y2="439.50" stroke="#3a55a8" stroke-width="0.8"/>
<line x1="187.01" y1="439.50" x2="190.17" y2="439.50" stroke="#3a55a8" stroke-width="0.9"/>
<rect x="194.60" y="440.00" width="4.22" height="17.50" fill="#111"/>
<line x1="196.71" y1="440.00" x2="196.71" y2="439.25" stroke="#111" stroke-width="0.8"/>
<line x1="195.13" y1="439.25" x2="198.29" y2="439.25" stroke="#111" stroke-width="0.9"/>
<rect x="199.17" y="442.50" width="3.52" height="15.00" fill="white" stroke="#111" stroke-width="0.7"/>
<line x1="200.93" y1="442.50" x2="200.93" y2="441.75" stroke="#111" stroke-width="0.8"/>
<line x1="199.35" y1="441.75" x2="202.51" y2="441.75" stroke="#111" stroke-width="0.9"/>
<rect x="203.04" y="444.50" width="4.22" height="13.00" fill="#7c7c7c"/>
<line x1="205.15" y1="444.50" x2="205.15" y2="443.50" stroke="#6a6a6a" stroke-width="0.8"/>
<line x1="203.57" y1="443.50" x2="206.73" y2="443.50" stroke="#6a6a6a" stroke-width="0.9"/>
<rect x="207.26" y="445.50" width="4.22" height="12.00" fill="#e0391f"/>
<line x1="209.37" y1="445.50" x2="209.37" y2="444.50" stroke="#e0391f" stroke-width="0.8"/>
<line x1="207.79" y1="444.50" x2="210.95" y2="444.50" stroke="#e0391f" stroke-width="0.9"/>
<rect x="211.48" y="443.75" width="4.22" height="13.75" fill="#3a55a8"/>
<line x1="213.59" y1="443.75" x2="213.59" y2="441.25" stroke="#3a55a8" stroke-width="0.8"/>
<line x1="212.01" y1="441.25" x2="215.17" y2="441.25" stroke="#3a55a8" stroke-width="0.9"/>
<rect x="219.60" y="440.75" width="4.22" height="16.75" fill="#111"/>
<line x1="221.71" y1="440.75" x2="221.71" y2="440.00" stroke="#111" stroke-width="0.8"/>
<line x1="220.13" y1="440.00" x2="223.29" y2="440.00" stroke="#111" stroke-width="0.9"/>
<rect x="224.17" y="442.00" width="3.52" height="15.50" fill="white" stroke="#111" stroke-width="0.7"/>
<line x1="225.93" y1="442.00" x2="225.93" y2="441.50" stroke="#111" stroke-width="0.8"/>
<line x1="224.35" y1="441.50" x2="227.51" y2="441.50" stroke="#111" stroke-width="0.9"/>
<rect x="228.04" y="444.50" width="4.22" height="13.00" fill="#7c7c7c"/>
<line x1="230.15" y1="444.50" x2="230.15" y2="443.50" stroke="#6a6a6a" stroke-width="0.8"/>
<line x1="228.57" y1="443.50" x2="231.73" y2="443.50" stroke="#6a6a6a" stroke-width="0.9"/>
<rect x="232.26" y="443.25" width="4.22" height="14.25" fill="#e0391f"/>
<line x1="234.37" y1="443.25" x2="234.37" y2="442.50" stroke="#e0391f" stroke-width="0.8"/>
<line x1="232.79" y1="442.50" x2="235.95" y2="442.50" stroke="#e0391f" stroke-width="0.9"/>
<rect x="236.48" y="440.75" width="4.22" height="16.75" fill="#3a55a8"/>
<line x1="238.59" y1="440.75" x2="238.59" y2="440.00" stroke="#3a55a8" stroke-width="0.8"/>
<line x1="237.01" y1="440.00" x2="240.17" y2="440.00" stroke="#3a55a8" stroke-width="0.9"/>
<polyline points="130.50,385.00 130.50,378.50 137.50,378.50 137.50,433.50" fill="none" stroke="#111" stroke-width="0.95"/>
<line x1="133.25" y1="433.50" x2="141.25" y2="433.50" stroke="#111" stroke-width="1.0"/>
<text x="133.75" y="376.52" font-size="7.8" text-anchor="middle" fill="#111">*</text>
<polyline points="180.50,409.00 180.50,402.50 187.50,402.50 187.50,433.50" fill="none" stroke="#111" stroke-width="0.95"/>
<line x1="183.25" y1="433.50" x2="191.25" y2="433.50" stroke="#111" stroke-width="1.0"/>
<text x="183.75" y="402.52" font-size="7.8" text-anchor="middle" fill="#111">*</text>
<text x="130.25" y="347.45" font-size="8.2" text-anchor="middle" fill="#111">PARP1 ChIP</text>
<text x="215.50" y="368.40" font-size="6.0" text-anchor="middle" fill="#111">*</text>
<text x="217.50" y="370.31" font-size="7.8" font-style="italic" fill="#111">P</text>
<text x="224.80" y="370.31" font-size="7.8" fill="#111">&lt;</text>
<text x="232.00" y="370.31" font-size="7.8" fill="#111">0.01</text>
<text transform="translate(19.00,410.00) rotate(-90)" font-size="8.1" text-anchor="middle" fill="#111">% Input</text>
<text x="5.00" y="471.25" font-size="8.2" fill="#111">DOX (h)</text>
<text x="55.15" y="467.88" font-size="8.0" text-anchor="middle" fill="#111">0</text>
<text x="80.15" y="467.88" font-size="8.0" text-anchor="middle" fill="#111">6</text>
<text x="105.15" y="467.88" font-size="8.0" text-anchor="middle" fill="#111">0</text>
<text x="130.15" y="467.88" font-size="8.0" text-anchor="middle" fill="#111">6</text>
<text x="155.15" y="467.88" font-size="8.0" text-anchor="middle" fill="#111">0</text>
<text x="180.15" y="467.88" font-size="8.0" text-anchor="middle" fill="#111">6</text>
<text x="205.15" y="467.88" font-size="8.0" text-anchor="middle" fill="#111">0</text>
<text x="230.15" y="467.88" font-size="8.0" text-anchor="middle" fill="#111">6</text>
<line x1="45.10" y1="472.50" x2="89.30" y2="472.50" stroke="#111" stroke-width="0.9"/>
<text x="67.00" y="482.81" font-size="7.8" text-anchor="middle" fill="#111">HSE</text>
<line x1="95.10" y1="472.50" x2="139.30" y2="472.50" stroke="#111" stroke-width="0.9"/>
<text x="117.00" y="482.81" font-size="7.8" text-anchor="middle" fill="#111">1</text>
<line x1="145.10" y1="472.50" x2="189.30" y2="472.50" stroke="#111" stroke-width="0.9"/>
<text x="167.00" y="482.81" font-size="7.8" text-anchor="middle" fill="#111">2</text>
<line x1="195.10" y1="472.50" x2="239.30" y2="472.50" stroke="#111" stroke-width="0.9"/>
<text x="219.50" y="482.81" font-size="7.8" text-anchor="middle" fill="#111">Inter.</text>
<polyline points="50.50,435.40 50.50,355.50 59.50,355.50 59.50,361.50" fill="none" stroke="#111" stroke-width="0.95"/>
<line x1="53.10" y1="361.50" x2="66.60" y2="361.50" stroke="#111" stroke-width="1.0"/>
<text x="55.30" y="353.52" font-size="7.8" text-anchor="middle" fill="#111">*</text>
<polyline points="79.50,434.50 79.50,355.50 87.50,355.50 87.50,361.50" fill="none" stroke="#111" stroke-width="0.95"/>
<line x1="82.30" y1="361.50" x2="90.40" y2="361.50" stroke="#111" stroke-width="1.0"/>
<text x="83.50" y="353.52" font-size="7.8" text-anchor="middle" fill="#111">*</text>
<line x1="335.90" y1="362.50" x2="335.90" y2="458.40" stroke="#666" stroke-width="2.0"/>
<line x1="335.45" y1="458.50" x2="535.00" y2="458.50" stroke="#333" stroke-width="1.3"/>
<line x1="333.60" y1="362.50" x2="335.90" y2="362.50" stroke="#111" stroke-width="0.95"/>
<text x="331.90" y="365.45" font-size="8.2" text-anchor="end" fill="#111">0.4</text>
<line x1="333.60" y1="386.50" x2="335.90" y2="386.50" stroke="#111" stroke-width="0.95"/>
<text x="331.90" y="389.20" font-size="8.2" text-anchor="end" fill="#111">0.3</text>
<line x1="333.60" y1="410.50" x2="335.90" y2="410.50" stroke="#111" stroke-width="0.95"/>
<text x="331.90" y="412.95" font-size="8.2" text-anchor="end" fill="#111">0.2</text>
<line x1="333.60" y1="434.50" x2="335.90" y2="434.50" stroke="#111" stroke-width="0.95"/>
<text x="331.90" y="436.95" font-size="8.2" text-anchor="end" fill="#111">0.1</text>
<line x1="333.60" y1="458.50" x2="335.90" y2="458.50" stroke="#111" stroke-width="0.95"/>
<text x="331.90" y="460.95" font-size="8.2" text-anchor="end" fill="#111">0</text>
<rect x="337.50" y="433.00" width="4.22" height="25.00" fill="#111"/>
<line x1="339.61" y1="433.00" x2="339.61" y2="430.75" stroke="#111" stroke-width="0.8"/>
<line x1="338.03" y1="430.75" x2="341.19" y2="430.75" stroke="#111" stroke-width="0.9"/>
<rect x="342.07" y="435.50" width="3.52" height="22.50" fill="white" stroke="#111" stroke-width="0.7"/>
<line x1="343.83" y1="435.50" x2="343.83" y2="434.50" stroke="#111" stroke-width="0.8"/>
<line x1="342.25" y1="434.50" x2="345.41" y2="434.50" stroke="#111" stroke-width="0.9"/>
<rect x="345.94" y="432.00" width="4.22" height="26.00" fill="#7c7c7c"/>
<line x1="348.05" y1="432.00" x2="348.05" y2="428.75" stroke="#6a6a6a" stroke-width="0.8"/>
<line x1="346.47" y1="428.75" x2="349.63" y2="428.75" stroke="#6a6a6a" stroke-width="0.9"/>
<rect x="350.16" y="430.50" width="4.22" height="27.50" fill="#e0391f"/>
<line x1="352.27" y1="430.50" x2="352.27" y2="428.25" stroke="#e0391f" stroke-width="0.8"/>
<line x1="350.69" y1="428.25" x2="353.85" y2="428.25" stroke="#e0391f" stroke-width="0.9"/>
<rect x="354.38" y="432.00" width="4.22" height="26.00" fill="#3a55a8"/>
<line x1="356.49" y1="432.00" x2="356.49" y2="429.50" stroke="#3a55a8" stroke-width="0.8"/>
<line x1="354.91" y1="429.50" x2="358.07" y2="429.50" stroke="#3a55a8" stroke-width="0.9"/>
<rect x="362.50" y="430.50" width="4.22" height="27.50" fill="#111"/>
<line x1="364.61" y1="430.50" x2="364.61" y2="428.25" stroke="#111" stroke-width="0.8"/>
<line x1="363.03" y1="428.25" x2="366.19" y2="428.25" stroke="#111" stroke-width="0.9"/>
<rect x="367.07" y="429.00" width="3.52" height="29.00" fill="white" stroke="#111" stroke-width="0.7"/>
<line x1="368.83" y1="429.00" x2="368.83" y2="427.00" stroke="#111" stroke-width="0.8"/>
<line x1="367.25" y1="427.00" x2="370.41" y2="427.00" stroke="#111" stroke-width="0.9"/>
<rect x="370.94" y="430.50" width="4.22" height="27.50" fill="#7c7c7c"/>
<line x1="373.05" y1="430.50" x2="373.05" y2="429.50" stroke="#6a6a6a" stroke-width="0.8"/>
<line x1="371.47" y1="429.50" x2="374.63" y2="429.50" stroke="#6a6a6a" stroke-width="0.9"/>
<rect x="375.16" y="434.50" width="4.22" height="23.50" fill="#e0391f"/>
<line x1="377.27" y1="434.50" x2="377.27" y2="432.50" stroke="#e0391f" stroke-width="0.8"/>
<line x1="375.69" y1="432.50" x2="378.85" y2="432.50" stroke="#e0391f" stroke-width="0.9"/>
<rect x="379.38" y="433.25" width="4.22" height="24.75" fill="#3a55a8"/>
<line x1="381.49" y1="433.25" x2="381.49" y2="430.50" stroke="#3a55a8" stroke-width="0.8"/>
<line x1="379.91" y1="430.50" x2="383.07" y2="430.50" stroke="#3a55a8" stroke-width="0.9"/>
<rect x="387.50" y="429.50" width="4.22" height="28.50" fill="#111"/>
<line x1="389.61" y1="429.50" x2="389.61" y2="426.75" stroke="#111" stroke-width="0.8"/>
<line x1="388.03" y1="426.75" x2="391.19" y2="426.75" stroke="#111" stroke-width="0.9"/>
<rect x="392.07" y="432.80" width="3.52" height="25.20" fill="white" stroke="#111" stroke-width="0.7"/>
<rect x="395.94" y="431.25" width="4.22" height="26.75" fill="#7c7c7c"/>
<line x1="398.05" y1="431.25" x2="398.05" y2="425.50" stroke="#6a6a6a" stroke-width="0.8"/>
<line x1="396.47" y1="425.50" x2="399.63" y2="425.50" stroke="#6a6a6a" stroke-width="0.9"/>
<rect x="400.16" y="430.75" width="4.22" height="27.25" fill="#e0391f"/>
<line x1="402.27" y1="430.75" x2="402.27" y2="426.25" stroke="#e0391f" stroke-width="0.8"/>
<line x1="400.69" y1="426.25" x2="403.85" y2="426.25" stroke="#e0391f" stroke-width="0.9"/>
<rect x="404.38" y="428.75" width="4.22" height="29.25" fill="#3a55a8"/>
<line x1="406.49" y1="428.75" x2="406.49" y2="422.00" stroke="#3a55a8" stroke-width="0.8"/>
<line x1="404.91" y1="422.00" x2="408.07" y2="422.00" stroke="#3a55a8" stroke-width="0.9"/>
<rect x="412.50" y="372.00" width="4.22" height="86.00" fill="#111"/>
<line x1="414.61" y1="372.00" x2="414.61" y2="369.50" stroke="#111" stroke-width="0.8"/>
<line x1="413.03" y1="369.50" x2="416.19" y2="369.50" stroke="#111" stroke-width="0.9"/>
<rect x="417.07" y="428.00" width="3.52" height="30.00" fill="white" stroke="#111" stroke-width="0.7"/>
<line x1="418.83" y1="428.00" x2="418.83" y2="425.00" stroke="#111" stroke-width="0.8"/>
<line x1="417.25" y1="425.00" x2="420.41" y2="425.00" stroke="#111" stroke-width="0.9"/>
<rect x="420.94" y="378.75" width="4.22" height="79.25" fill="#7c7c7c"/>
<line x1="423.05" y1="378.75" x2="423.05" y2="373.00" stroke="#6a6a6a" stroke-width="0.8"/>
<line x1="421.47" y1="373.00" x2="424.63" y2="373.00" stroke="#6a6a6a" stroke-width="0.9"/>
<rect x="425.16" y="432.50" width="4.22" height="25.50" fill="#e0391f"/>
<line x1="427.27" y1="432.50" x2="427.27" y2="431.25" stroke="#e0391f" stroke-width="0.8"/>
<line x1="425.69" y1="431.25" x2="428.85" y2="431.25" stroke="#e0391f" stroke-width="0.9"/>
<rect x="429.38" y="436.25" width="4.22" height="21.75" fill="#3a55a8"/>
<line x1="431.49" y1="436.25" x2="431.49" y2="433.75" stroke="#3a55a8" stroke-width="0.8"/>
<line x1="429.91" y1="433.75" x2="433.07" y2="433.75" stroke="#3a55a8" stroke-width="0.9"/>
<rect x="437.50" y="432.00" width="4.22" height="26.00" fill="#111"/>
<line x1="439.61" y1="432.00" x2="439.61" y2="426.25" stroke="#111" stroke-width="0.8"/>
<line x1="438.03" y1="426.25" x2="441.19" y2="426.25" stroke="#111" stroke-width="0.9"/>
<rect x="442.07" y="426.25" width="3.52" height="31.75" fill="white" stroke="#111" stroke-width="0.7"/>
<line x1="443.83" y1="426.25" x2="443.83" y2="423.00" stroke="#111" stroke-width="0.8"/>
<line x1="442.25" y1="423.00" x2="445.41" y2="423.00" stroke="#111" stroke-width="0.9"/>
<rect x="445.94" y="430.00" width="4.22" height="28.00" fill="#7c7c7c"/>
<line x1="448.05" y1="430.00" x2="448.05" y2="429.00" stroke="#6a6a6a" stroke-width="0.8"/>
<line x1="446.47" y1="429.00" x2="449.63" y2="429.00" stroke="#6a6a6a" stroke-width="0.9"/>
<rect x="450.16" y="429.25" width="4.22" height="28.75" fill="#e0391f"/>
<line x1="452.27" y1="429.25" x2="452.27" y2="425.00" stroke="#e0391f" stroke-width="0.8"/>
<line x1="450.69" y1="425.00" x2="453.85" y2="425.00" stroke="#e0391f" stroke-width="0.9"/>
<rect x="454.38" y="433.25" width="4.22" height="24.75" fill="#3a55a8"/>
<line x1="456.49" y1="433.25" x2="456.49" y2="431.25" stroke="#3a55a8" stroke-width="0.8"/>
<line x1="454.91" y1="431.25" x2="458.07" y2="431.25" stroke="#3a55a8" stroke-width="0.9"/>
<rect x="462.50" y="389.25" width="4.22" height="68.75" fill="#111"/>
<line x1="464.61" y1="389.25" x2="464.61" y2="386.25" stroke="#111" stroke-width="0.8"/>
<line x1="463.03" y1="386.25" x2="466.19" y2="386.25" stroke="#111" stroke-width="0.9"/>
<rect x="467.07" y="425.75" width="3.52" height="32.25" fill="white" stroke="#111" stroke-width="0.7"/>
<line x1="468.83" y1="425.75" x2="468.83" y2="423.25" stroke="#111" stroke-width="0.8"/>
<line x1="467.25" y1="423.25" x2="470.41" y2="423.25" stroke="#111" stroke-width="0.9"/>
<rect x="470.94" y="393.75" width="4.22" height="64.25" fill="#7c7c7c"/>
<line x1="473.05" y1="393.75" x2="473.05" y2="390.00" stroke="#6a6a6a" stroke-width="0.8"/>
<line x1="471.47" y1="390.00" x2="474.63" y2="390.00" stroke="#6a6a6a" stroke-width="0.9"/>
<rect x="475.16" y="428.25" width="4.22" height="29.75" fill="#e0391f"/>
<line x1="477.27" y1="428.25" x2="477.27" y2="425.50" stroke="#e0391f" stroke-width="0.8"/>
<line x1="475.69" y1="425.50" x2="478.85" y2="425.50" stroke="#e0391f" stroke-width="0.9"/>
<rect x="479.38" y="431.75" width="4.22" height="26.25" fill="#3a55a8"/>
<line x1="481.49" y1="431.75" x2="481.49" y2="431.00" stroke="#3a55a8" stroke-width="0.8"/>
<line x1="479.91" y1="431.00" x2="483.07" y2="431.00" stroke="#3a55a8" stroke-width="0.9"/>
<rect x="487.50" y="430.75" width="4.22" height="27.25" fill="#111"/>
<line x1="489.61" y1="430.75" x2="489.61" y2="428.25" stroke="#111" stroke-width="0.8"/>
<line x1="488.03" y1="428.25" x2="491.19" y2="428.25" stroke="#111" stroke-width="0.9"/>
<rect x="492.07" y="431.25" width="3.52" height="26.75" fill="white" stroke="#111" stroke-width="0.7"/>
<line x1="493.83" y1="431.25" x2="493.83" y2="429.50" stroke="#111" stroke-width="0.8"/>
<line x1="492.25" y1="429.50" x2="495.41" y2="429.50" stroke="#111" stroke-width="0.9"/>
<rect x="495.94" y="426.25" width="4.22" height="31.75" fill="#7c7c7c"/>
<line x1="498.05" y1="426.25" x2="498.05" y2="425.50" stroke="#6a6a6a" stroke-width="0.8"/>
<line x1="496.47" y1="425.50" x2="499.63" y2="425.50" stroke="#6a6a6a" stroke-width="0.9"/>
<rect x="500.16" y="424.50" width="4.22" height="33.50" fill="#e0391f"/>
<line x1="502.27" y1="424.50" x2="502.27" y2="422.50" stroke="#e0391f" stroke-width="0.8"/>
<line x1="500.69" y1="422.50" x2="503.85" y2="422.50" stroke="#e0391f" stroke-width="0.9"/>
<rect x="504.38" y="431.25" width="4.22" height="26.75" fill="#3a55a8"/>
<line x1="506.49" y1="431.25" x2="506.49" y2="430.00" stroke="#3a55a8" stroke-width="0.8"/>
<line x1="504.91" y1="430.00" x2="508.07" y2="430.00" stroke="#3a55a8" stroke-width="0.9"/>
<rect x="512.50" y="429.50" width="4.22" height="28.50" fill="#111"/>
<line x1="514.61" y1="429.50" x2="514.61" y2="426.25" stroke="#111" stroke-width="0.8"/>
<line x1="513.03" y1="426.25" x2="516.19" y2="426.25" stroke="#111" stroke-width="0.9"/>
<rect x="517.07" y="429.25" width="3.52" height="28.75" fill="white" stroke="#111" stroke-width="0.7"/>
<line x1="518.83" y1="429.25" x2="518.83" y2="427.00" stroke="#111" stroke-width="0.8"/>
<line x1="517.25" y1="427.00" x2="520.41" y2="427.00" stroke="#111" stroke-width="0.9"/>
<rect x="520.94" y="431.75" width="4.22" height="26.25" fill="#7c7c7c"/>
<line x1="523.05" y1="431.75" x2="523.05" y2="431.00" stroke="#6a6a6a" stroke-width="0.8"/>
<line x1="521.47" y1="431.00" x2="524.63" y2="431.00" stroke="#6a6a6a" stroke-width="0.9"/>
<rect x="525.16" y="432.00" width="4.22" height="26.00" fill="#e0391f"/>
<line x1="527.27" y1="432.00" x2="527.27" y2="430.75" stroke="#e0391f" stroke-width="0.8"/>
<line x1="525.69" y1="430.75" x2="528.85" y2="430.75" stroke="#e0391f" stroke-width="0.9"/>
<rect x="529.38" y="432.50" width="4.22" height="25.50" fill="#3a55a8"/>
<line x1="531.49" y1="432.50" x2="531.49" y2="432.00" stroke="#3a55a8" stroke-width="0.8"/>
<line x1="529.91" y1="432.00" x2="533.07" y2="432.00" stroke="#3a55a8" stroke-width="0.9"/>
<polyline points="423.50,371.00 423.50,364.50 430.50,364.50 430.50,418.50" fill="none" stroke="#111" stroke-width="0.95"/>
<line x1="426.75" y1="418.50" x2="435.00" y2="418.50" stroke="#111" stroke-width="1.0"/>
<text x="427.00" y="364.02" font-size="7.8" text-anchor="middle" fill="#111">*</text>
<polyline points="473.50,388.00 473.50,380.50 480.50,380.50 480.50,418.50" fill="none" stroke="#111" stroke-width="0.95"/>
<line x1="476.25" y1="418.50" x2="485.00" y2="418.50" stroke="#111" stroke-width="1.0"/>
<text x="476.25" y="379.52" font-size="7.8" text-anchor="middle" fill="#111">*</text>
<text x="432.50" y="349.20" font-size="8.2" text-anchor="middle" fill="#111">PAR ChIP</text>
<text x="507.25" y="369.65" font-size="6.0" text-anchor="middle" fill="#111">*</text>
<text x="509.25" y="371.56" font-size="7.8" font-style="italic" fill="#111">P</text>
<text x="516.55" y="371.56" font-size="7.8" fill="#111">&lt;</text>
<text x="523.75" y="371.56" font-size="7.8" fill="#111">0.01</text>
<text transform="translate(313.70,405.90) rotate(-90)" font-size="8.1" text-anchor="middle" fill="#111">% Input</text>
<text x="298.50" y="471.95" font-size="8.2" fill="#111">DOX (h)</text>
<text x="348.65" y="469.18" font-size="8.0" text-anchor="middle" fill="#111">0</text>
<text x="373.65" y="469.18" font-size="8.0" text-anchor="middle" fill="#111">6</text>
<text x="398.65" y="469.18" font-size="8.0" text-anchor="middle" fill="#111">0</text>
<text x="423.65" y="469.18" font-size="8.0" text-anchor="middle" fill="#111">6</text>
<text x="448.65" y="469.18" font-size="8.0" text-anchor="middle" fill="#111">0</text>
<text x="473.65" y="469.18" font-size="8.0" text-anchor="middle" fill="#111">6</text>
<text x="498.65" y="469.18" font-size="8.0" text-anchor="middle" fill="#111">0</text>
<text x="523.65" y="469.18" font-size="8.0" text-anchor="middle" fill="#111">6</text>
<line x1="338.00" y1="473.50" x2="382.20" y2="473.50" stroke="#111" stroke-width="0.9"/>
<text x="361.00" y="484.51" font-size="7.8" text-anchor="middle" fill="#111">HSE</text>
<line x1="388.00" y1="473.50" x2="432.20" y2="473.50" stroke="#111" stroke-width="0.9"/>
<text x="412.20" y="484.51" font-size="7.8" text-anchor="middle" fill="#111">1</text>
<line x1="438.00" y1="473.50" x2="482.20" y2="473.50" stroke="#111" stroke-width="0.9"/>
<text x="459.50" y="484.51" font-size="7.8" text-anchor="middle" fill="#111">2</text>
<line x1="488.00" y1="473.50" x2="532.20" y2="473.50" stroke="#111" stroke-width="0.9"/>
<text x="511.30" y="484.51" font-size="7.8" text-anchor="middle" fill="#111">Inter.</text>
<rect x="54.50" y="502.20" width="6.60" height="6.60" fill="#111"/>
<text x="65.50" y="508.02" font-size="7.0" fill="#111" stroke-width="0.1">SCR + GFP</text>
<rect x="115.00" y="502.70" width="5.60" height="5.60" fill="white" stroke="#111" stroke-width="1.1"/>
<text x="124.50" y="508.02" font-size="7.0" fill="#111" stroke-width="0.1">PARP1-KD + GFP</text>
<rect x="199.50" y="502.20" width="6.60" height="6.60" fill="#7c7c7c"/>
<text x="210.50" y="508.02" font-size="7.0" fill="#111" stroke-width="0.1">PARP1-KD + HA-hPARP1</text>
<rect x="313.00" y="502.20" width="6.60" height="6.60" fill="#e0391f"/>
<text x="323.00" y="508.02" font-size="7.0" fill="#111" stroke-width="0.1">PARP1-KD + HA-HYA</text>
<rect x="413.75" y="502.20" width="6.60" height="6.60" fill="#3a55a8"/>
<text x="423.00" y="508.02" font-size="7.0" fill="#111" stroke-width="0.1">PARP1-KD + HA-AAA</text>
<text x="-0.40" y="525.90" font-size="12.5" font-weight="bold" fill="#111">e</text>
<line x1="43.50" y1="546.25" x2="43.50" y2="635.40" stroke="#111" stroke-width="0.95"/>
<line x1="42.55" y1="635.50" x2="257.50" y2="635.50" stroke="#111" stroke-width="0.95"/>
<line x1="40.70" y1="546.50" x2="43.00" y2="546.50" stroke="#111" stroke-width="0.95"/>
<text x="37.50" y="549.20" font-size="8.2" text-anchor="end" fill="#111">15</text>
<line x1="40.70" y1="575.50" x2="43.00" y2="575.50" stroke="#111" stroke-width="0.95"/>
<text x="37.50" y="578.70" font-size="8.2" text-anchor="end" fill="#111">10</text>
<line x1="40.70" y1="605.50" x2="43.00" y2="605.50" stroke="#111" stroke-width="0.95"/>
<text x="37.50" y="608.35" font-size="8.2" text-anchor="end" fill="#111">5</text>
<line x1="40.70" y1="635.50" x2="43.00" y2="635.50" stroke="#111" stroke-width="0.95"/>
<text x="37.50" y="637.95" font-size="8.2" text-anchor="end" fill="#111">0</text>
<rect x="44.90" y="632.20" width="4.40" height="2.80" fill="#111"/>
<rect x="49.65" y="623.00" width="3.70" height="12.00" fill="white" stroke="#111" stroke-width="0.7"/>
<line x1="51.50" y1="623.00" x2="51.50" y2="622.00" stroke="#111" stroke-width="0.8"/>
<line x1="49.85" y1="622.00" x2="53.15" y2="622.00" stroke="#111" stroke-width="0.9"/>
<rect x="53.70" y="631.30" width="4.40" height="3.70" fill="#7c7c7c"/>
<rect x="58.10" y="622.70" width="4.40" height="12.30" fill="#e0391f"/>
<line x1="60.30" y1="622.70" x2="60.30" y2="620.80" stroke="#e0391f" stroke-width="0.8"/>
<line x1="58.65" y1="620.80" x2="61.95" y2="620.80" stroke="#e0391f" stroke-width="0.9"/>
<rect x="62.50" y="622.70" width="4.40" height="12.30" fill="#3a55a8"/>
<line x1="64.70" y1="622.70" x2="64.70" y2="621.00" stroke="#3a55a8" stroke-width="0.8"/>
<line x1="63.05" y1="621.00" x2="66.35" y2="621.00" stroke="#3a55a8" stroke-width="0.9"/>
<rect x="71.80" y="606.10" width="4.40" height="28.90" fill="#111"/>
<line x1="74.00" y1="606.10" x2="74.00" y2="603.20" stroke="#111" stroke-width="0.8"/>
<line x1="72.35" y1="603.20" x2="75.65" y2="603.20" stroke="#111" stroke-width="0.9"/>
<rect x="76.55" y="623.00" width="3.70" height="12.00" fill="white" stroke="#111" stroke-width="0.7"/>
<line x1="78.40" y1="623.00" x2="78.40" y2="621.50" stroke="#111" stroke-width="0.8"/>
<line x1="76.75" y1="621.50" x2="80.05" y2="621.50" stroke="#111" stroke-width="0.9"/>
<rect x="80.60" y="607.60" width="4.40" height="27.40" fill="#7c7c7c"/>
<line x1="82.80" y1="607.60" x2="82.80" y2="606.40" stroke="#6a6a6a" stroke-width="0.8"/>
<line x1="81.15" y1="606.40" x2="84.45" y2="606.40" stroke="#6a6a6a" stroke-width="0.9"/>
<rect x="85.00" y="623.00" width="4.40" height="12.00" fill="#e0391f"/>
<line x1="87.20" y1="623.00" x2="87.20" y2="622.50" stroke="#e0391f" stroke-width="0.8"/>
<line x1="85.55" y1="622.50" x2="88.85" y2="622.50" stroke="#e0391f" stroke-width="0.9"/>
<rect x="89.40" y="623.00" width="4.40" height="12.00" fill="#3a55a8"/>
<line x1="91.60" y1="623.00" x2="91.60" y2="622.50" stroke="#3a55a8" stroke-width="0.8"/>
<line x1="89.95" y1="622.50" x2="93.25" y2="622.50" stroke="#3a55a8" stroke-width="0.9"/>
<rect x="98.70" y="630.75" width="4.40" height="4.25" fill="#111"/>
<line x1="100.90" y1="630.75" x2="100.90" y2="630.00" stroke="#111" stroke-width="0.8"/>
<line x1="99.25" y1="630.00" x2="102.55" y2="630.00" stroke="#111" stroke-width="0.9"/>
<rect x="103.45" y="611.75" width="3.70" height="23.25" fill="white" stroke="#111" stroke-width="0.7"/>
<line x1="105.30" y1="611.75" x2="105.30" y2="611.00" stroke="#111" stroke-width="0.8"/>
<line x1="103.65" y1="611.00" x2="106.95" y2="611.00" stroke="#111" stroke-width="0.9"/>
<rect x="107.50" y="628.75" width="4.40" height="6.25" fill="#7c7c7c"/>
<line x1="109.70" y1="628.75" x2="109.70" y2="627.50" stroke="#6a6a6a" stroke-width="0.8"/>
<line x1="108.05" y1="627.50" x2="111.35" y2="627.50" stroke="#6a6a6a" stroke-width="0.9"/>
<rect x="111.90" y="612.00" width="4.40" height="23.00" fill="#e0391f"/>
<line x1="114.10" y1="612.00" x2="114.10" y2="608.75" stroke="#e0391f" stroke-width="0.8"/>
<line x1="112.45" y1="608.75" x2="115.75" y2="608.75" stroke="#e0391f" stroke-width="0.9"/>
<rect x="116.30" y="612.50" width="4.40" height="22.50" fill="#3a55a8"/>
<line x1="118.50" y1="612.50" x2="118.50" y2="608.00" stroke="#3a55a8" stroke-width="0.8"/>
<line x1="116.85" y1="608.00" x2="120.15" y2="608.00" stroke="#3a55a8" stroke-width="0.9"/>
<rect x="125.60" y="562.50" width="4.40" height="72.50" fill="#111"/>
<line x1="127.80" y1="562.50" x2="127.80" y2="560.50" stroke="#111" stroke-width="0.8"/>
<line x1="126.15" y1="560.50" x2="129.45" y2="560.50" stroke="#111" stroke-width="0.9"/>
<rect x="130.35" y="608.00" width="3.70" height="27.00" fill="white" stroke="#111" stroke-width="0.7"/>
<line x1="132.20" y1="608.00" x2="132.20" y2="604.50" stroke="#111" stroke-width="0.8"/>
<line x1="130.55" y1="604.50" x2="133.85" y2="604.50" stroke="#111" stroke-width="0.9"/>
<rect x="134.40" y="565.75" width="4.40" height="69.25" fill="#7c7c7c"/>
<line x1="136.60" y1="565.75" x2="136.60" y2="557.00" stroke="#6a6a6a" stroke-width="0.8"/>
<line x1="134.95" y1="557.00" x2="138.25" y2="557.00" stroke="#6a6a6a" stroke-width="0.9"/>
<rect x="138.80" y="605.50" width="4.40" height="29.50" fill="#e0391f"/>
<line x1="141.00" y1="605.50" x2="141.00" y2="599.50" stroke="#e0391f" stroke-width="0.8"/>
<line x1="139.35" y1="599.50" x2="142.65" y2="599.50" stroke="#e0391f" stroke-width="0.9"/>
<rect x="143.20" y="605.00" width="4.40" height="30.00" fill="#3a55a8"/>
<line x1="145.40" y1="605.00" x2="145.40" y2="600.00" stroke="#3a55a8" stroke-width="0.8"/>
<line x1="143.75" y1="600.00" x2="147.05" y2="600.00" stroke="#3a55a8" stroke-width="0.9"/>
<rect x="152.50" y="631.75" width="4.40" height="3.25" fill="#111"/>
<line x1="154.70" y1="631.75" x2="154.70" y2="631.00" stroke="#111" stroke-width="0.8"/>
<line x1="153.05" y1="631.00" x2="156.35" y2="631.00" stroke="#111" stroke-width="0.9"/>
<rect x="157.25" y="613.80" width="3.70" height="21.20" fill="white" stroke="#111" stroke-width="0.7"/>
<line x1="159.10" y1="613.80" x2="159.10" y2="613.00" stroke="#111" stroke-width="0.8"/>
<line x1="157.45" y1="613.00" x2="160.75" y2="613.00" stroke="#111" stroke-width="0.9"/>
<rect x="161.30" y="631.75" width="4.40" height="3.25" fill="#7c7c7c"/>
<line x1="163.50" y1="631.75" x2="163.50" y2="631.00" stroke="#6a6a6a" stroke-width="0.8"/>
<line x1="161.85" y1="631.00" x2="165.15" y2="631.00" stroke="#6a6a6a" stroke-width="0.9"/>
<rect x="165.70" y="616.00" width="4.40" height="19.00" fill="#e0391f"/>
<line x1="167.90" y1="616.00" x2="167.90" y2="614.50" stroke="#e0391f" stroke-width="0.8"/>
<line x1="166.25" y1="614.50" x2="169.55" y2="614.50" stroke="#e0391f" stroke-width="0.9"/>
<rect x="170.10" y="615.20" width="4.40" height="19.80" fill="#3a55a8"/>
<line x1="172.30" y1="615.20" x2="172.30" y2="614.75" stroke="#3a55a8" stroke-width="0.8"/>
<line x1="170.65" y1="614.75" x2="173.95" y2="614.75" stroke="#3a55a8" stroke-width="0.9"/>
<rect x="179.40" y="573.25" width="4.40" height="61.75" fill="#111"/>
<line x1="181.60" y1="573.25" x2="181.60" y2="571.25" stroke="#111" stroke-width="0.8"/>
<line x1="179.95" y1="571.25" x2="183.25" y2="571.25" stroke="#111" stroke-width="0.9"/>
<rect x="184.15" y="608.00" width="3.70" height="27.00" fill="white" stroke="#111" stroke-width="0.7"/>
<line x1="186.00" y1="608.00" x2="186.00" y2="607.50" stroke="#111" stroke-width="0.8"/>
<line x1="184.35" y1="607.50" x2="187.65" y2="607.50" stroke="#111" stroke-width="0.9"/>
<rect x="188.20" y="581.25" width="4.40" height="53.75" fill="#7c7c7c"/>
<line x1="190.40" y1="581.25" x2="190.40" y2="577.50" stroke="#6a6a6a" stroke-width="0.8"/>
<line x1="188.75" y1="577.50" x2="192.05" y2="577.50" stroke="#6a6a6a" stroke-width="0.9"/>
<rect x="192.60" y="607.00" width="4.40" height="28.00" fill="#e0391f"/>
<line x1="194.80" y1="607.00" x2="194.80" y2="603.25" stroke="#e0391f" stroke-width="0.8"/>
<line x1="193.15" y1="603.25" x2="196.45" y2="603.25" stroke="#e0391f" stroke-width="0.9"/>
<rect x="197.00" y="610.00" width="4.40" height="25.00" fill="#3a55a8"/>
<line x1="199.20" y1="610.00" x2="199.20" y2="608.00" stroke="#3a55a8" stroke-width="0.8"/>
<line x1="197.55" y1="608.00" x2="200.85" y2="608.00" stroke="#3a55a8" stroke-width="0.9"/>
<rect x="206.30" y="634.00" width="4.40" height="1.00" fill="#111"/>
<rect x="211.05" y="634.00" width="3.70" height="1.00" fill="white" stroke="#111" stroke-width="0.7"/>
<rect x="215.10" y="634.20" width="4.40" height="0.80" fill="#7c7c7c"/>
<rect x="219.50" y="634.20" width="4.40" height="0.80" fill="#e0391f"/>
<rect x="223.90" y="634.20" width="4.40" height="0.80" fill="#3a55a8"/>
<rect x="233.20" y="634.00" width="4.40" height="1.00" fill="#111"/>
<rect x="237.95" y="634.00" width="3.70" height="1.00" fill="white" stroke="#111" stroke-width="0.7"/>
<rect x="242.00" y="634.20" width="4.40" height="0.80" fill="#7c7c7c"/>
<rect x="246.40" y="634.20" width="4.40" height="0.80" fill="#e0391f"/>
<rect x="250.80" y="634.20" width="4.40" height="0.80" fill="#3a55a8"/>
<text x="132.25" y="529.95" font-size="8.2" text-anchor="middle" fill="#111">H3K4me3 ChIP</text>
<text x="224.75" y="550.90" font-size="6.0" text-anchor="middle" fill="#111">*</text>
<text x="226.75" y="552.81" font-size="7.8" font-style="italic" fill="#111">P</text>
<text x="234.05" y="552.81" font-size="7.8" fill="#111">&lt;</text>
<text x="241.25" y="552.81" font-size="7.8" fill="#111">0.01</text>
<text transform="translate(23.70,590.70) rotate(-90)" font-size="8.1" text-anchor="middle" fill="#111">H3K4me3/H3</text>
<text x="6.25" y="645.75" font-size="8.2" fill="#111">DOX (h)</text>
<text x="55.90" y="645.38" font-size="8.0" text-anchor="middle" fill="#111">0</text>
<text x="82.80" y="645.38" font-size="8.0" text-anchor="middle" fill="#111">6</text>
<text x="109.70" y="645.38" font-size="8.0" text-anchor="middle" fill="#111">0</text>
<text x="136.60" y="645.38" font-size="8.0" text-anchor="middle" fill="#111">6</text>
<text x="163.50" y="645.38" font-size="8.0" text-anchor="middle" fill="#111">0</text>
<text x="190.40" y="645.38" font-size="8.0" text-anchor="middle" fill="#111">6</text>
<text x="217.30" y="645.38" font-size="8.0" text-anchor="middle" fill="#111">0</text>
<text x="244.20" y="645.38" font-size="8.0" text-anchor="middle" fill="#111">6</text>
<line x1="45.40" y1="650.50" x2="92.40" y2="650.50" stroke="#666" stroke-width="1.3"/>
<text x="72.00" y="659.71" font-size="7.8" text-anchor="middle" fill="#111">HSE</text>
<line x1="99.20" y1="650.50" x2="146.20" y2="650.50" stroke="#666" stroke-width="1.3"/>
<text x="123.25" y="659.71" font-size="7.8" text-anchor="middle" fill="#111">1</text>
<line x1="153.00" y1="650.50" x2="200.00" y2="650.50" stroke="#666" stroke-width="1.3"/>
<text x="178.75" y="659.71" font-size="7.8" text-anchor="middle" fill="#111">2</text>
<line x1="206.80" y1="650.50" x2="253.80" y2="650.50" stroke="#666" stroke-width="1.3"/>
<text x="233.75" y="659.71" font-size="7.8" text-anchor="middle" fill="#111">Inter.</text>
<polyline points="56.50,627.80 56.50,613.50 64.50,613.50 64.50,618.50" fill="none" stroke="#111" stroke-width="0.95"/>
<line x1="59.40" y1="618.50" x2="67.80" y2="618.50" stroke="#111" stroke-width="1.0"/>
<text x="60.70" y="612.12" font-size="7.8" text-anchor="middle" fill="#111">*</text>
<polyline points="110.50,627.00 110.50,600.50 118.50,600.50 118.50,605.50" fill="none" stroke="#111" stroke-width="0.95"/>
<line x1="113.20" y1="605.50" x2="121.90" y2="605.50" stroke="#111" stroke-width="1.0"/>
<text x="113.00" y="599.62" font-size="7.8" text-anchor="middle" fill="#111">*</text>
<polyline points="164.50,630.00 164.50,606.50 172.50,606.50 172.50,610.50" fill="none" stroke="#111" stroke-width="0.95"/>
<line x1="167.40" y1="610.50" x2="175.80" y2="610.50" stroke="#111" stroke-width="1.0"/>
<text x="167.40" y="604.92" font-size="7.8" text-anchor="middle" fill="#111">*</text>
<polyline points="83.50,606.00 83.50,598.50 90.50,598.50 90.50,616.50" fill="none" stroke="#111" stroke-width="0.95"/>
<line x1="87.10" y1="616.50" x2="94.90" y2="616.50" stroke="#111" stroke-width="1.0"/>
<text x="87.35" y="597.22" font-size="7.8" text-anchor="middle" fill="#111">*</text>
<polyline points="137.50,556.00 137.50,549.50 144.50,549.50 144.50,594.50" fill="none" stroke="#111" stroke-width="0.95"/>
<line x1="141.25" y1="594.50" x2="148.75" y2="594.50" stroke="#111" stroke-width="1.0"/>
<text x="141.25" y="548.82" font-size="7.8" text-anchor="middle" fill="#111">*</text>
<polyline points="190.50,577.00 190.50,569.50 198.50,569.50 198.50,598.50" fill="none" stroke="#111" stroke-width="0.95"/>
<line x1="195.00" y1="598.50" x2="203.00" y2="598.50" stroke="#111" stroke-width="1.0"/>
<text x="195.00" y="568.82" font-size="7.8" text-anchor="middle" fill="#111">*</text>
<line x1="341.75" y1="545.00" x2="341.75" y2="635.40" stroke="#555" stroke-width="1.4"/>
<line x1="341.30" y1="635.50" x2="555.00" y2="635.50" stroke="#111" stroke-width="0.95"/>
<line x1="339.45" y1="545.50" x2="341.75" y2="545.50" stroke="#111" stroke-width="0.95"/>
<text x="335.40" y="547.95" font-size="8.2" text-anchor="end" fill="#111">18</text>
<line x1="339.45" y1="575.50" x2="341.75" y2="575.50" stroke="#111" stroke-width="0.95"/>
<text x="335.40" y="577.95" font-size="8.2" text-anchor="end" fill="#111">12</text>
<line x1="339.45" y1="605.50" x2="341.75" y2="605.50" stroke="#111" stroke-width="0.95"/>
<text x="335.40" y="607.95" font-size="8.2" text-anchor="end" fill="#111">6</text>
<line x1="339.45" y1="635.50" x2="341.75" y2="635.50" stroke="#111" stroke-width="0.95"/>
<text x="335.40" y="637.95" font-size="8.2" text-anchor="end" fill="#111">0</text>
<rect x="343.00" y="620.50" width="4.55" height="14.50" fill="#111"/>
<rect x="347.90" y="602.00" width="3.85" height="33.00" fill="white" stroke="#111" stroke-width="0.7"/>
<rect x="352.10" y="622.50" width="4.55" height="12.50" fill="#7c7c7c"/>
<rect x="356.65" y="607.00" width="4.55" height="28.00" fill="#e0391f"/>
<line x1="358.92" y1="607.00" x2="358.92" y2="603.75" stroke="#e0391f" stroke-width="0.8"/>
<line x1="357.22" y1="603.75" x2="360.63" y2="603.75" stroke="#e0391f" stroke-width="0.9"/>
<rect x="361.20" y="603.00" width="4.55" height="32.00" fill="#3a55a8"/>
<line x1="363.47" y1="603.00" x2="363.47" y2="601.25" stroke="#3a55a8" stroke-width="0.8"/>
<line x1="361.77" y1="601.25" x2="365.18" y2="601.25" stroke="#3a55a8" stroke-width="0.9"/>
<rect x="369.85" y="578.75" width="4.55" height="56.25" fill="#111"/>
<line x1="372.12" y1="578.75" x2="372.12" y2="577.50" stroke="#111" stroke-width="0.8"/>
<line x1="370.42" y1="577.50" x2="373.83" y2="577.50" stroke="#111" stroke-width="0.9"/>
<rect x="374.75" y="603.00" width="3.85" height="32.00" fill="white" stroke="#111" stroke-width="0.7"/>
<line x1="376.68" y1="603.00" x2="376.68" y2="600.75" stroke="#111" stroke-width="0.8"/>
<line x1="374.97" y1="600.75" x2="378.38" y2="600.75" stroke="#111" stroke-width="0.9"/>
<rect x="378.95" y="580.50" width="4.55" height="54.50" fill="#7c7c7c"/>
<line x1="381.23" y1="580.50" x2="381.23" y2="579.50" stroke="#6a6a6a" stroke-width="0.8"/>
<line x1="379.52" y1="579.50" x2="382.93" y2="579.50" stroke="#6a6a6a" stroke-width="0.9"/>
<rect x="383.50" y="602.50" width="4.55" height="32.50" fill="#e0391f"/>
<line x1="385.77" y1="602.50" x2="385.77" y2="599.50" stroke="#e0391f" stroke-width="0.8"/>
<line x1="384.07" y1="599.50" x2="387.48" y2="599.50" stroke="#e0391f" stroke-width="0.9"/>
<rect x="388.05" y="607.00" width="4.55" height="28.00" fill="#3a55a8"/>
<line x1="390.32" y1="607.00" x2="390.32" y2="603.75" stroke="#3a55a8" stroke-width="0.8"/>
<line x1="388.62" y1="603.75" x2="392.03" y2="603.75" stroke="#3a55a8" stroke-width="0.9"/>
<rect x="396.70" y="623.25" width="4.55" height="11.75" fill="#111"/>
<rect x="401.60" y="599.50" width="3.85" height="35.50" fill="white" stroke="#111" stroke-width="0.7"/>
<line x1="403.52" y1="599.50" x2="403.52" y2="595.75" stroke="#111" stroke-width="0.8"/>
<line x1="401.82" y1="595.75" x2="405.23" y2="595.75" stroke="#111" stroke-width="0.9"/>
<rect x="405.80" y="619.50" width="4.55" height="15.50" fill="#7c7c7c"/>
<rect x="410.35" y="603.00" width="4.55" height="32.00" fill="#e0391f"/>
<line x1="412.62" y1="603.00" x2="412.62" y2="598.75" stroke="#e0391f" stroke-width="0.8"/>
<line x1="410.92" y1="598.75" x2="414.33" y2="598.75" stroke="#e0391f" stroke-width="0.9"/>
<rect x="414.90" y="600.00" width="4.55" height="35.00" fill="#3a55a8"/>
<line x1="417.17" y1="600.00" x2="417.17" y2="598.25" stroke="#3a55a8" stroke-width="0.8"/>
<line x1="415.47" y1="598.25" x2="418.88" y2="598.25" stroke="#3a55a8" stroke-width="0.9"/>
<rect x="423.55" y="553.25" width="4.55" height="81.75" fill="#111"/>
<line x1="425.82" y1="553.25" x2="425.82" y2="550.75" stroke="#111" stroke-width="0.8"/>
<line x1="424.12" y1="550.75" x2="427.53" y2="550.75" stroke="#111" stroke-width="0.9"/>
<rect x="428.45" y="595.50" width="3.85" height="39.50" fill="white" stroke="#111" stroke-width="0.7"/>
<rect x="432.65" y="560.75" width="4.55" height="74.25" fill="#7c7c7c"/>
<line x1="434.93" y1="560.75" x2="434.93" y2="555.00" stroke="#6a6a6a" stroke-width="0.8"/>
<line x1="433.22" y1="555.00" x2="436.63" y2="555.00" stroke="#6a6a6a" stroke-width="0.9"/>
<rect x="437.20" y="599.50" width="4.55" height="35.50" fill="#e0391f"/>
<line x1="439.47" y1="599.50" x2="439.47" y2="595.50" stroke="#e0391f" stroke-width="0.8"/>
<line x1="437.77" y1="595.50" x2="441.18" y2="595.50" stroke="#e0391f" stroke-width="0.9"/>
<rect x="441.75" y="600.75" width="4.55" height="34.25" fill="#3a55a8"/>
<line x1="444.02" y1="600.75" x2="444.02" y2="593.75" stroke="#3a55a8" stroke-width="0.8"/>
<line x1="442.32" y1="593.75" x2="445.73" y2="593.75" stroke="#3a55a8" stroke-width="0.9"/>
<rect x="450.40" y="622.00" width="4.55" height="13.00" fill="#111"/>
<rect x="455.30" y="592.30" width="3.85" height="42.70" fill="white" stroke="#111" stroke-width="0.7"/>
<rect x="459.50" y="619.50" width="4.55" height="15.50" fill="#7c7c7c"/>
<rect x="464.05" y="595.30" width="4.55" height="39.70" fill="#e0391f"/>
<rect x="468.60" y="597.00" width="4.55" height="38.00" fill="#3a55a8"/>
<line x1="470.87" y1="597.00" x2="470.87" y2="596.20" stroke="#3a55a8" stroke-width="0.8"/>
<line x1="469.17" y1="596.20" x2="472.58" y2="596.20" stroke="#3a55a8" stroke-width="0.9"/>
<rect x="477.25" y="552.00" width="4.55" height="83.00" fill="#111"/>
<line x1="479.52" y1="552.00" x2="479.52" y2="550.00" stroke="#111" stroke-width="0.8"/>
<line x1="477.82" y1="550.00" x2="481.23" y2="550.00" stroke="#111" stroke-width="0.9"/>
<rect x="482.15" y="598.75" width="3.85" height="36.25" fill="white" stroke="#111" stroke-width="0.7"/>
<line x1="484.07" y1="598.75" x2="484.07" y2="598.00" stroke="#111" stroke-width="0.8"/>
<line x1="482.37" y1="598.00" x2="485.78" y2="598.00" stroke="#111" stroke-width="0.9"/>
<rect x="486.35" y="556.25" width="4.55" height="78.75" fill="#7c7c7c"/>
<line x1="488.62" y1="556.25" x2="488.62" y2="554.25" stroke="#6a6a6a" stroke-width="0.8"/>
<line x1="486.92" y1="554.25" x2="490.33" y2="554.25" stroke="#6a6a6a" stroke-width="0.9"/>
<rect x="490.90" y="598.75" width="4.55" height="36.25" fill="#e0391f"/>
<line x1="493.17" y1="598.75" x2="493.17" y2="597.00" stroke="#e0391f" stroke-width="0.8"/>
<line x1="491.47" y1="597.00" x2="494.88" y2="597.00" stroke="#e0391f" stroke-width="0.9"/>
<rect x="495.45" y="597.50" width="4.55" height="37.50" fill="#3a55a8"/>
<line x1="497.72" y1="597.50" x2="497.72" y2="596.50" stroke="#3a55a8" stroke-width="0.8"/>
<line x1="496.02" y1="596.50" x2="499.43" y2="596.50" stroke="#3a55a8" stroke-width="0.9"/>
<rect x="504.10" y="633.50" width="4.55" height="1.50" fill="#111"/>
<rect x="509.00" y="633.20" width="3.85" height="1.80" fill="white" stroke="#111" stroke-width="0.7"/>
<rect x="513.20" y="633.50" width="4.55" height="1.50" fill="#7c7c7c"/>
<rect x="517.75" y="633.50" width="4.55" height="1.50" fill="#e0391f"/>
<rect x="522.30" y="633.50" width="4.55" height="1.50" fill="#3a55a8"/>
<rect x="530.95" y="633.50" width="4.55" height="1.50" fill="#111"/>
<rect x="535.85" y="633.20" width="3.85" height="1.80" fill="white" stroke="#111" stroke-width="0.7"/>
<rect x="540.05" y="633.50" width="4.55" height="1.50" fill="#7c7c7c"/>
<rect x="544.60" y="633.50" width="4.55" height="1.50" fill="#e0391f"/>
<rect x="549.15" y="633.50" width="4.55" height="1.50" fill="#3a55a8"/>
<text x="433.40" y="532.95" font-size="8.2" text-anchor="middle" fill="#111">H3K9ac ChIP</text>
<text x="521.75" y="553.90" font-size="6.0" text-anchor="middle" fill="#111">*</text>
<text x="523.75" y="555.81" font-size="7.8" font-style="italic" fill="#111">P</text>
<text x="531.05" y="555.81" font-size="7.8" fill="#111">&lt;</text>
<text x="538.25" y="555.81" font-size="7.8" fill="#111">0.01</text>
<text transform="translate(321.00,585.90) rotate(-90)" font-size="8.1" text-anchor="middle" fill="#111">H3K9ac/H3</text>
<text x="304.25" y="646.95" font-size="8.2" fill="#111">DOX (h)</text>
<text x="354.38" y="645.68" font-size="8.0" text-anchor="middle" fill="#111">0</text>
<text x="381.23" y="645.68" font-size="8.0" text-anchor="middle" fill="#111">6</text>
<text x="408.07" y="645.68" font-size="8.0" text-anchor="middle" fill="#111">0</text>
<text x="434.93" y="645.68" font-size="8.0" text-anchor="middle" fill="#111">6</text>
<text x="461.77" y="645.68" font-size="8.0" text-anchor="middle" fill="#111">0</text>
<text x="488.62" y="645.68" font-size="8.0" text-anchor="middle" fill="#111">6</text>
<text x="515.48" y="645.68" font-size="8.0" text-anchor="middle" fill="#111">0</text>
<text x="542.33" y="645.68" font-size="8.0" text-anchor="middle" fill="#111">6</text>
<line x1="343.50" y1="650.50" x2="391.20" y2="650.50" stroke="#666" stroke-width="1.3"/>
<text x="369.25" y="660.11" font-size="7.8" text-anchor="middle" fill="#111">HSE</text>
<line x1="397.20" y1="650.50" x2="444.90" y2="650.50" stroke="#666" stroke-width="1.3"/>
<text x="421.75" y="660.11" font-size="7.8" text-anchor="middle" fill="#111">1</text>
<line x1="450.90" y1="650.50" x2="498.60" y2="650.50" stroke="#666" stroke-width="1.3"/>
<text x="477.00" y="660.11" font-size="7.8" text-anchor="middle" fill="#111">2</text>
<line x1="504.60" y1="650.50" x2="552.30" y2="650.50" stroke="#666" stroke-width="1.3"/>
<text x="530.75" y="660.11" font-size="7.8" text-anchor="middle" fill="#111">Inter.</text>
<polyline points="353.50,621.25 353.50,594.50 362.50,594.50 362.50,599.50" fill="none" stroke="#111" stroke-width="0.95"/>
<line x1="358.50" y1="599.50" x2="366.00" y2="599.50" stroke="#111" stroke-width="1.0"/>
<text x="358.75" y="593.52" font-size="7.8" text-anchor="middle" fill="#111">*</text>
<polyline points="407.50,618.75 407.50,592.50 415.50,592.50 415.50,596.50" fill="none" stroke="#111" stroke-width="0.95"/>
<line x1="411.20" y1="596.50" x2="419.80" y2="596.50" stroke="#111" stroke-width="1.0"/>
<text x="411.70" y="590.82" font-size="7.8" text-anchor="middle" fill="#111">*</text>
<polyline points="461.50,618.75 461.50,588.50 469.50,588.50 469.50,592.50" fill="none" stroke="#111" stroke-width="0.95"/>
<line x1="465.10" y1="592.50" x2="473.50" y2="592.50" stroke="#111" stroke-width="1.0"/>
<text x="465.10" y="587.22" font-size="7.8" text-anchor="middle" fill="#111">*</text>
<polyline points="381.50,579.00 381.50,572.50 388.50,572.50 388.50,595.50" fill="none" stroke="#111" stroke-width="0.95"/>
<line x1="385.00" y1="595.50" x2="392.50" y2="595.50" stroke="#111" stroke-width="1.0"/>
<text x="385.00" y="570.82" font-size="7.8" text-anchor="middle" fill="#111">*</text>
<polyline points="435.50,554.50 435.50,549.50 442.50,549.50 442.50,590.50" fill="none" stroke="#111" stroke-width="0.95"/>
<line x1="438.75" y1="590.50" x2="447.00" y2="590.50" stroke="#111" stroke-width="1.0"/>
<text x="438.75" y="547.82" font-size="7.8" text-anchor="middle" fill="#111">*</text>
<polyline points="488.50,553.50 488.50,547.50 495.50,547.50 495.50,592.50" fill="none" stroke="#111" stroke-width="0.95"/>
<line x1="491.25" y1="592.50" x2="499.50" y2="592.50" stroke="#111" stroke-width="1.0"/>
<text x="491.25" y="546.02" font-size="7.8" text-anchor="middle" fill="#111">*</text>
<rect x="93.75" y="677.90" width="6.60" height="6.60" fill="#111"/>
<text x="104.50" y="683.72" font-size="7.0" fill="#111" stroke-width="0.1">SCR + GFP</text>
<rect x="153.75" y="678.40" width="5.60" height="5.60" fill="white" stroke="#111" stroke-width="1.1"/>
<text x="165.00" y="683.72" font-size="7.0" fill="#111" stroke-width="0.1">HSF1-KD + GFP</text>
<rect x="229.50" y="677.90" width="6.60" height="6.60" fill="#7c7c7c"/>
<text x="242.00" y="683.72" font-size="7.0" fill="#111" stroke-width="0.1">HSF1-KD + hHSF1-HA</text>
<rect x="331.25" y="677.90" width="6.60" height="6.60" fill="#e0391f"/>
<text x="343.75" y="683.72" font-size="7.0" fill="#111" stroke-width="0.1">HSF1-KD + T20A-HA</text>
<rect x="425.00" y="677.90" width="6.60" height="6.60" fill="#3a55a8"/>
<text x="437.00" y="683.72" font-size="7.0" fill="#111" stroke-width="0.1">HSF1-KD + T20G-HA</text>
</svg>
</body></html>
